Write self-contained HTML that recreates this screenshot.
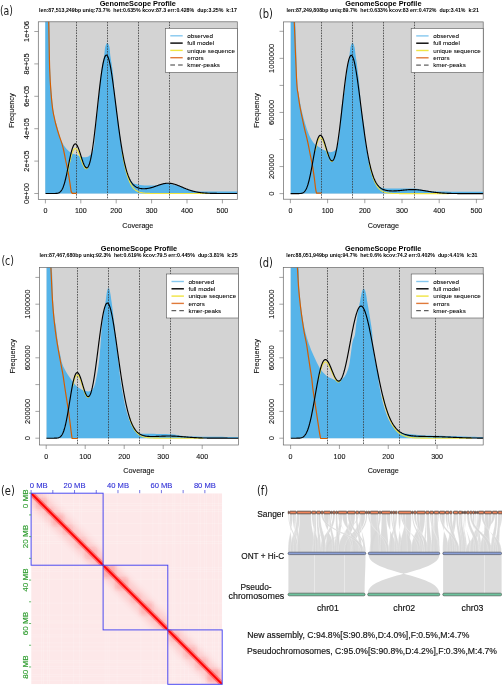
<!DOCTYPE html><html><head><meta charset="utf-8"><style>html,body{margin:0;padding:0;background:#fff;overflow:hidden}svg{display:block}text{font-family:'Liberation Sans', Arial, sans-serif}</style></head><body>
<svg width="502" height="685" viewBox="0 0 502 685">
<rect width="502" height="685" fill="#fff"/>
<clipPath id="clipa"><rect x="38.3" y="21.8" width="199" height="177.6"/></clipPath>
<g clip-path="url(#clipa)">
<rect x="45.3" y="16.8" width="197" height="176.7" fill="#d3d3d3"/>
<path d="M45.3,20C45.95,20 48.38,11.67 49.2,20C50.02,28.33 49.78,57.5 50.2,70C50.62,82.5 51.18,88.33 51.7,95C52.22,101.67 52.72,105.83 53.3,110C53.88,114.17 54.62,117.5 55.2,120C55.78,122.5 56.33,123.33 56.8,125C57.27,126.67 57.3,127.5 58,130C58.7,132.5 59.83,137.18 61,140C62.17,142.82 63.52,144.92 65,146.9C66.48,148.88 68.25,150.67 69.9,151.9C71.55,153.13 73.23,153.57 74.9,154.3C76.57,155.03 78.25,155.8 79.9,156.3C81.55,156.8 83.32,157.3 84.8,157.3C86.28,157.3 87.63,157.05 88.8,156.3C89.97,155.55 90.97,154.2 91.8,152.8C92.63,151.4 93.23,150.87 93.8,147.9C94.37,144.93 94.78,139.18 95.2,135C95.62,130.82 95.8,127.8 96.3,122.8C96.8,117.8 97.65,110.8 98.2,105C98.75,99.2 99.22,92.47 99.6,88C99.98,83.53 100.15,81.47 100.5,78.2C100.85,74.93 101.23,71.52 101.7,68.4C102.17,65.28 102.85,61.9 103.3,59.5C103.75,57.1 104.12,55.93 104.4,54C104.68,52.07 104.68,49.57 105,47.9C105.32,46.23 105.92,44.83 106.3,44C106.68,43.17 106.97,42.9 107.3,42.9C107.63,42.9 107.92,43.17 108.3,44C108.68,44.83 109.27,45.98 109.6,47.9C109.93,49.82 109.98,52.97 110.3,55.5C110.62,58.03 111.12,60.58 111.5,63.1C111.88,65.62 112.28,68.08 112.6,70.6C112.92,73.12 113.15,75.3 113.4,78.2C113.65,81.1 113.77,84.38 114.1,88C114.43,91.62 114.85,95.42 115.4,99.9C115.95,104.38 116.65,109.05 117.4,114.9C118.15,120.75 119.15,129.17 119.9,135C120.65,140.83 121.15,144.92 121.9,149.9C122.65,154.88 123.45,160.47 124.4,164.9C125.35,169.33 126.67,174.12 127.6,176.5C128.53,178.88 129.1,178.13 130,179.2C130.9,180.27 132,182.08 133,182.9C134,183.72 134.83,183.77 136,184.1C137.17,184.43 137.68,184.65 140,184.9C142.32,185.15 146.9,185.6 149.9,185.6C152.9,185.6 155.17,185.23 158,184.9C160.83,184.57 164.1,183.53 166.9,183.6C169.7,183.67 172.62,184.82 174.8,185.3C176.98,185.78 178.43,186.02 180,186.5C181.57,186.98 182.48,187.58 184.2,188.2C185.92,188.82 188.25,189.7 190.3,190.2C192.35,190.7 194.43,190.98 196.5,191.2C198.57,191.42 195.45,191.43 202.7,191.5C209.95,191.57 233.78,191.58 240,191.6L240,193.5 L45.3,193.5 Z" fill="#56B4E9"/>
<line x1="76.5" y1="21.8" x2="76.5" y2="199.4" stroke="#3a3a3a" stroke-width="0.8" stroke-dasharray="1.6,1.05"/>
<line x1="107.5" y1="21.8" x2="107.5" y2="199.4" stroke="#3a3a3a" stroke-width="0.8" stroke-dasharray="1.6,1.05"/>
<line x1="138.5" y1="21.8" x2="138.5" y2="199.4" stroke="#3a3a3a" stroke-width="0.8" stroke-dasharray="1.6,1.05"/>
<line x1="169.5" y1="21.8" x2="169.5" y2="199.4" stroke="#3a3a3a" stroke-width="0.8" stroke-dasharray="1.6,1.05"/>
<path d="M48.7,20C48.87,28.33 49.28,57.5 49.7,70C50.12,82.5 50.68,88.33 51.2,95C51.72,101.67 52.2,105.83 52.8,110C53.4,114.17 54.27,117.5 54.8,120C55.33,122.5 55.3,122.5 56,125C56.7,127.5 58,131.85 59,135C60,138.15 61.23,141.4 62,143.9C62.77,146.4 63,147.32 63.6,150C64.2,152.68 64.88,156.52 65.6,160C66.32,163.48 67.18,167.08 67.9,170.9C68.62,174.72 69.35,179.47 69.9,182.9C70.45,186.33 70.78,189.77 71.2,191.5C71.62,193.23 72.2,193 72.4,193.3 L76.7,193.3" fill="none" stroke="#D55E00" stroke-width="1.2" stroke-linejoin="round"/>
<path d="M67.27,173.32 67.69,171.41 68.12,169.48 68.54,167.53 68.97,165.6 69.39,163.69 69.82,161.82 70.24,160.02 70.67,158.31 71.09,156.69 71.52,155.18 71.95,153.81 72.37,152.57 72.8,151.49 73.22,150.57 73.65,149.82 74.07,149.23 74.5,148.82 74.92,148.58 75.35,148.51 75.77,148.61 76.2,148.86 76.62,149.27 77.05,149.82 77.47,150.5 77.9,151.3 78.32,152.2 78.75,153.2 79.18,154.27 79.6,155.41 80.03,156.59 80.45,157.8 80.88,159.02 81.3,160.24 81.73,161.36 82.15,162.44 82.58,163.47 83,164.46 83.43,165.37 83.85,166.21 84.28,166.95 84.7,167.58 85.13,168.09 85.55,168.47 85.98,168.7 86.41,168.78 86.83,168.69 87.26,168.43 87.68,167.98 88.11,167.35 M122.13,151.72 122.56,154.2 122.98,156.59 123.41,158.88 123.83,161.07 124.26,163.15 124.68,165.14 125.11,167.04 125.53,168.83 125.96,170.54 126.38,172.15 126.81,173.67 127.23,175.11 127.66,176.46 128.08,177.74 128.51,178.93 128.94,180.05 129.36,181.1 129.79,182.07 130.21,182.99 130.64,183.84 131.06,184.63 131.49,185.37 131.91,186.05 132.34,186.68 132.76,187.27 133.19,187.81 133.61,188.31 134.04,188.77 134.46,189.2 134.89,189.59 135.31,189.95 135.74,190.28 136.17,190.58 136.59,190.85 137.02,191.1 137.44,191.34 137.87,191.54 138.29,191.74 138.72,191.91 139.14,192.07 139.57,192.21 139.99,192.34 140.42,192.46 140.84,192.57 141.27,192.66 141.69,192.75 142.12,192.83 142.54,192.9 142.97,192.97 143.4,193.02 143.82,193.07 144.25,193.12 144.67,193.16 145.1,193.2 145.52,193.23 145.95,193.26 146.37,193.29 146.8,193.31 147.22,193.34 147.65,193.35 148.07,193.37 148.5,193.39 148.92,193.4 149.35,193.41 149.77,193.42 150.2,193.43 150.63,193.44 151.05,193.45 151.48,193.45 151.9,193.46 152.33,193.46 152.75,193.47 153.18,193.47 153.6,193.48 154.03,193.48 154.45,193.48 154.88,193.48 155.3,193.49 155.73,193.49 156.15,193.49 156.58,193.49 157,193.49 157.43,193.49 157.86,193.49 158.28,193.49 158.71,193.5 159.13,193.5 159.56,193.5 159.98,193.5 160.41,193.5 160.83,193.5 161.26,193.5 161.68,193.5 162.11,193.5 162.53,193.5 162.96,193.5 163.38,193.5 163.81,193.5 164.23,193.5 164.66,193.5 165.09,193.5 165.51,193.5 165.94,193.5 166.36,193.5 166.79,193.5 167.21,193.5 167.64,193.5 168.06,193.5 168.49,193.5 168.91,193.5 169.34,193.5 169.76,193.5 170.19,193.5 170.61,193.5 171.04,193.5 171.46,193.5 171.89,193.5 172.32,193.5 172.74,193.5 173.17,193.5 173.59,193.5 174.02,193.5 174.44,193.5 174.87,193.5 175.29,193.5 175.72,193.5 176.14,193.5 176.57,193.5 176.99,193.5 177.42,193.5 177.84,193.5 178.27,193.5 178.69,193.5 179.12,193.5 179.55,193.5 179.97,193.5 180.4,193.5 180.82,193.5 181.25,193.5 181.67,193.5 182.1,193.5 182.52,193.5 182.95,193.5 183.37,193.5 183.8,193.5 184.22,193.5 184.65,193.5 185.07,193.5 185.5,193.5 185.92,193.5 186.35,193.5 186.78,193.5 187.2,193.5 187.63,193.5 188.05,193.5 188.48,193.5 188.9,193.5 189.33,193.5 189.75,193.5 190.18,193.5 190.6,193.5 191.03,193.5 191.45,193.5 191.88,193.5 192.3,193.5 192.73,193.5 193.15,193.5 193.58,193.5 194.01,193.5 194.43,193.5 194.86,193.5 195.28,193.5 195.71,193.5 196.13,193.5 196.56,193.5 196.98,193.5 197.41,193.5 197.83,193.5 198.26,193.5 198.68,193.5 199.11,193.5 199.53,193.5 199.96,193.5 200.38,193.5 200.81,193.5 201.24,193.5 201.66,193.5 202.09,193.5 202.51,193.5 202.94,193.5 203.36,193.5 203.79,193.5 204.21,193.5 204.64,193.5 205.06,193.5 205.49,193.5 205.91,193.5 206.34,193.5 206.76,193.5 207.19,193.5 207.62,193.5 208.04,193.5 208.47,193.5 208.89,193.5 209.32,193.5" fill="none" stroke="#F0E442" stroke-width="1.1" stroke-linejoin="round"/>
<path d="M45.58,193.5 46,193.5 46.43,193.5 46.85,193.5 47.28,193.5 47.7,193.5 48.13,193.5 48.55,193.5 48.98,193.5 49.4,193.5 49.83,193.5 50.26,193.5 50.68,193.5 51.11,193.5 51.53,193.5 51.96,193.5 52.38,193.5 52.81,193.5 53.23,193.5 53.66,193.49 54.08,193.49 54.51,193.49 54.93,193.48 55.36,193.46 55.78,193.44 56.21,193.42 56.63,193.38 57.06,193.32 57.49,193.25 57.91,193.15 58.34,193.03 58.76,192.87 59.19,192.66 59.61,192.4 60.04,192.09 60.46,191.7 60.89,191.23 61.31,190.68 61.74,190.04 62.16,189.28 62.59,188.42 63.01,187.44 63.44,186.34 63.86,185.12 64.29,183.77 64.72,182.3 65.14,180.71 65.57,179 65.99,177.19 66.42,175.29 66.84,173.31 67.27,171.25 67.69,169.15 68.12,167.02 68.54,164.88 68.97,162.75 69.39,160.64 69.82,158.59 70.24,156.6 70.67,154.71 71.09,152.93 71.52,151.27 71.95,149.75 72.37,148.39 72.8,147.2 73.22,146.19 73.65,145.35 74.07,144.71 74.5,144.26 74.92,144 75.35,143.92 75.77,144.03 76.2,144.31 76.62,144.76 77.05,145.37 77.47,146.13 77.9,147.01 78.32,148.01 78.75,149.12 79.18,150.31 79.6,151.57 80.03,152.89 80.45,154.24 80.88,155.6 81.3,156.97 81.73,158.33 82.15,159.65 82.58,160.93 83,162.14 83.43,163.27 83.85,164.31 84.28,165.24 84.7,166.05 85.13,166.72 85.55,167.26 85.98,167.63 86.41,167.84 86.83,167.87 87.26,167.71 87.68,167.36 88.11,166.82 88.53,166.07 88.96,165.11 89.38,163.94 89.81,162.55 90.23,160.95 90.66,159.14 91.08,157.11 91.51,154.88 91.93,152.44 92.36,149.81 92.78,146.98 93.21,143.98 93.64,140.81 94.06,137.49 94.49,134.03 94.91,130.43 95.34,126.73 95.76,122.94 96.19,119.07 96.61,115.15 97.04,111.19 97.46,107.22 97.89,103.26 98.31,99.33 98.74,95.44 99.16,91.64 99.59,87.92 100.01,84.32 100.44,80.85 100.87,77.54 101.29,74.41 101.72,71.46 102.14,68.72 102.57,66.2 102.99,63.91 103.42,61.87 103.84,60.08 104.27,58.56 104.69,57.31 105.12,56.33 105.54,55.63 105.97,55.21 106.39,55.07 106.82,55.21 107.25,55.61 107.67,56.29 108.1,57.22 108.52,58.4 108.95,59.83 109.37,61.48 109.8,63.35 110.22,65.43 110.65,67.7 111.07,70.15 111.5,72.76 111.92,75.52 112.35,78.42 112.77,81.42 113.2,84.54 113.62,87.73 114.05,91 114.48,94.33 114.9,97.7 115.33,101.09 115.75,104.5 116.18,107.92 116.6,111.32 117.03,114.7 117.45,118.04 117.88,121.35 118.3,124.6 118.73,127.8 119.15,130.92 119.58,133.98 120,136.95 120.43,139.84 120.85,142.64 121.28,145.34 121.71,147.96 122.13,150.47 122.56,152.88 122.98,155.19 123.41,157.4 123.83,159.52 124.26,161.53 124.68,163.44 125.11,165.25 125.53,166.97 125.96,168.59 126.38,170.12 126.81,171.56 127.23,172.92 127.66,174.19 128.08,175.38 128.51,176.49 128.94,177.53 129.36,178.5 129.79,179.4 130.21,180.24 130.64,181.02 131.06,181.74 131.49,182.41 131.91,183.02 132.34,183.59 132.76,184.11 133.19,184.59 133.61,185.03 134.04,185.43 134.46,185.8 134.89,186.14 135.31,186.45 135.74,186.73 136.17,186.98 136.59,187.21 137.02,187.42 137.44,187.61 137.87,187.78 138.29,187.93 138.72,188.07 139.14,188.19 139.57,188.3 139.99,188.39 140.42,188.47 140.84,188.54 141.27,188.6 141.69,188.65 142.12,188.69 142.54,188.71 142.97,188.73 143.4,188.75 143.82,188.75 144.25,188.74 144.67,188.73 145.1,188.71 145.52,188.68 145.95,188.65 146.37,188.61 146.8,188.56 147.22,188.5 147.65,188.44 148.07,188.37 148.5,188.3 148.92,188.21 149.35,188.13 149.77,188.03 150.2,187.93 150.63,187.83 151.05,187.72 151.48,187.6 151.9,187.48 152.33,187.35 152.75,187.22 153.18,187.09 153.6,186.95 154.03,186.81 154.45,186.67 154.88,186.52 155.3,186.37 155.73,186.22 156.15,186.07 156.58,185.92 157,185.76 157.43,185.61 157.86,185.46 158.28,185.31 158.71,185.16 159.13,185.01 159.56,184.87 159.98,184.73 160.41,184.59 160.83,184.46 161.26,184.33 161.68,184.21 162.11,184.09 162.53,183.98 162.96,183.87 163.38,183.77 163.81,183.68 164.23,183.6 164.66,183.52 165.09,183.45 165.51,183.4 165.94,183.34 166.36,183.3 166.79,183.27 167.21,183.24 167.64,183.23 168.06,183.22 168.49,183.22 168.91,183.24 169.34,183.26 169.76,183.29 170.19,183.33 170.61,183.38 171.04,183.43 171.46,183.5 171.89,183.58 172.32,183.66 172.74,183.75 173.17,183.85 173.59,183.96 174.02,184.07 174.44,184.19 174.87,184.32 175.29,184.45 175.72,184.59 176.14,184.74 176.57,184.89 176.99,185.04 177.42,185.2 177.84,185.37 178.27,185.53 178.69,185.7 179.12,185.88 179.55,186.05 179.97,186.23 180.4,186.41 180.82,186.59 181.25,186.77 181.67,186.95 182.1,187.14 182.52,187.32 182.95,187.5 183.37,187.69 183.8,187.87 184.22,188.05 184.65,188.22 185.07,188.4 185.5,188.57 185.92,188.75 186.35,188.92 186.78,189.08 187.2,189.25 187.63,189.41 188.05,189.57 188.48,189.72 188.9,189.88 189.33,190.02 189.75,190.17 190.18,190.31 190.6,190.45 191.03,190.58 191.45,190.71 191.88,190.84 192.3,190.96 192.73,191.08 193.15,191.19 193.58,191.3 194.01,191.41 194.43,191.51 194.86,191.61 195.28,191.71 195.71,191.8 196.13,191.89 196.56,191.97 196.98,192.05 197.41,192.13 197.83,192.21 198.26,192.28 198.68,192.35 199.11,192.41 199.53,192.47 199.96,192.53 200.38,192.59 200.81,192.64 201.24,192.7 201.66,192.74 202.09,192.79 202.51,192.83 202.94,192.88 203.36,192.91 203.79,192.95 204.21,192.99 204.64,193.02 205.06,193.05 205.49,193.08 205.91,193.11 206.34,193.13 206.76,193.16 207.19,193.18 207.62,193.2 208.04,193.22 208.47,193.24 208.89,193.26 209.32,193.28 209.74,193.29 210.17,193.31 210.59,193.32 211.02,193.34 211.44,193.35 211.87,193.36 212.29,193.37 212.72,193.38 213.14,193.39 213.57,193.4 213.99,193.41 214.42,193.41 214.85,193.42 215.27,193.43 215.7,193.43 216.12,193.44 216.55,193.44 216.97,193.45 217.4,193.45 217.82,193.46 218.25,193.46 218.67,193.46 219.1,193.47 219.52,193.47 219.95,193.47 220.37,193.47 220.8,193.48 221.22,193.48 221.65,193.48 222.08,193.48 222.5,193.48 222.93,193.48 223.35,193.49 223.78,193.49 224.2,193.49 224.63,193.49 225.05,193.49 225.48,193.49 225.9,193.49 226.33,193.49 226.75,193.49 227.18,193.49 227.6,193.49 228.03,193.5 228.45,193.5 228.88,193.5 229.31,193.5 229.73,193.5 230.16,193.5 230.58,193.5 231.01,193.5 231.43,193.5 231.86,193.5 232.28,193.5 232.71,193.5 233.13,193.5 233.56,193.5 233.98,193.5 234.41,193.5 234.83,193.5 235.26,193.5 235.68,193.5 236.11,193.5 236.54,193.5 236.96,193.5 237.39,193.5 237.81,193.5 238.24,193.5 238.66,193.5 239.09,193.5 239.51,193.5 239.94,193.5" fill="none" stroke="#000" stroke-width="1.15" stroke-linejoin="round"/>
</g>
<rect x="38.3" y="21.8" width="199" height="177.6" fill="none" stroke="#666" stroke-width="0.7"/>
<rect x="165.3" y="28.3" width="72" height="44" fill="#fff" stroke="#555" stroke-width="0.6"/>
<line x1="170.3" y1="35.8" x2="182.7" y2="35.8" stroke="#86c8ef" stroke-width="1.4"/>
<text x="187.3" y="37.95" font-size="6.25" fill="#000" stroke="#000" stroke-width="0.06">observed</text>
<line x1="170.3" y1="43.1" x2="182.7" y2="43.1" stroke="#000" stroke-width="1.4"/>
<text x="187.3" y="45.25" font-size="6.25" fill="#000" stroke="#000" stroke-width="0.06">full model</text>
<line x1="170.3" y1="50.4" x2="182.7" y2="50.4" stroke="#F0E442" stroke-width="1.4"/>
<text x="187.3" y="52.55" font-size="6.25" fill="#000" stroke="#000" stroke-width="0.06">unique sequence</text>
<line x1="170.3" y1="57.7" x2="182.7" y2="57.7" stroke="#e07a3a" stroke-width="1.4"/>
<text x="187.3" y="59.85" font-size="6.25" fill="#000" stroke="#000" stroke-width="0.06">errors</text>
<line x1="170.3" y1="65" x2="182.7" y2="65" stroke="#222" stroke-width="0.9" stroke-dasharray="4.7,3.1"/>
<text x="187.3" y="67.15" font-size="6.25" fill="#000" stroke="#000" stroke-width="0.06">kmer-peaks</text>
<line x1="45.4" y1="199.4" x2="45.4" y2="203.4" stroke="#666" stroke-width="0.6"/>
<text x="45.4" y="213" font-size="7.1" text-anchor="middle" fill="#111" stroke="#111" stroke-width="0.1">0</text>
<line x1="80.8" y1="199.4" x2="80.8" y2="203.4" stroke="#666" stroke-width="0.6"/>
<text x="80.8" y="213" font-size="7.1" text-anchor="middle" fill="#111" stroke="#111" stroke-width="0.1">100</text>
<line x1="116.2" y1="199.4" x2="116.2" y2="203.4" stroke="#666" stroke-width="0.6"/>
<text x="116.2" y="213" font-size="7.1" text-anchor="middle" fill="#111" stroke="#111" stroke-width="0.1">200</text>
<line x1="151.6" y1="199.4" x2="151.6" y2="203.4" stroke="#666" stroke-width="0.6"/>
<text x="151.6" y="213" font-size="7.1" text-anchor="middle" fill="#111" stroke="#111" stroke-width="0.1">300</text>
<line x1="187" y1="199.4" x2="187" y2="203.4" stroke="#666" stroke-width="0.6"/>
<text x="187" y="213" font-size="7.1" text-anchor="middle" fill="#111" stroke="#111" stroke-width="0.1">400</text>
<line x1="222.4" y1="199.4" x2="222.4" y2="203.4" stroke="#666" stroke-width="0.6"/>
<text x="222.4" y="213" font-size="7.1" text-anchor="middle" fill="#111" stroke="#111" stroke-width="0.1">500</text>
<line x1="34.3" y1="193.5" x2="38.3" y2="193.5" stroke="#666" stroke-width="0.6"/>
<text transform="translate(29,193.5) rotate(-90)" font-size="7.5" text-anchor="middle" fill="#111" stroke="#111" stroke-width="0.1">0e+00</text>
<line x1="34.3" y1="161.1" x2="38.3" y2="161.1" stroke="#666" stroke-width="0.6"/>
<text transform="translate(29,161.1) rotate(-90)" font-size="7.5" text-anchor="middle" fill="#111" stroke="#111" stroke-width="0.1">2e+05</text>
<line x1="34.3" y1="128.7" x2="38.3" y2="128.7" stroke="#666" stroke-width="0.6"/>
<text transform="translate(29,128.7) rotate(-90)" font-size="7.5" text-anchor="middle" fill="#111" stroke="#111" stroke-width="0.1">4e+05</text>
<line x1="34.3" y1="96.3" x2="38.3" y2="96.3" stroke="#666" stroke-width="0.6"/>
<text transform="translate(29,96.3) rotate(-90)" font-size="7.5" text-anchor="middle" fill="#111" stroke="#111" stroke-width="0.1">6e+05</text>
<line x1="34.3" y1="63.9" x2="38.3" y2="63.9" stroke="#666" stroke-width="0.6"/>
<text transform="translate(29,63.9) rotate(-90)" font-size="7.5" text-anchor="middle" fill="#111" stroke="#111" stroke-width="0.1">8e+05</text>
<line x1="34.3" y1="31.5" x2="38.3" y2="31.5" stroke="#666" stroke-width="0.6"/>
<text transform="translate(29,31.5) rotate(-90)" font-size="7.5" text-anchor="middle" fill="#111" stroke="#111" stroke-width="0.1">1e+06</text>
<text x="137.8" y="227.8" font-size="7.2" text-anchor="middle" fill="#111" stroke="#111" stroke-width="0.1">Coverage</text>
<text transform="translate(13.5,110.6) rotate(-90)" font-size="7.3" text-anchor="middle" fill="#111" stroke="#111" stroke-width="0.1">Frequency</text>
<text x="137.8" y="5.6" font-size="7.2" font-weight="bold" text-anchor="middle" textLength="76.3" lengthAdjust="spacingAndGlyphs">GenomeScope Profile</text>
<text x="39" y="11.9" font-size="4.7" font-weight="bold" textLength="197.9" lengthAdjust="spacingAndGlyphs" style="white-space:pre">len:87,513,249bp uniq:73.7%  het:0.635% kcov:87.3 err:0.428%  dup:3.25%  k:17</text>
<text x="-0.1" y="15.4" font-size="11.4" style="font-family:'DejaVu Sans',sans-serif" fill="#1a1a1a" textLength="13" lengthAdjust="spacingAndGlyphs">(a)</text>
<clipPath id="clipb"><rect x="283.5" y="21.9" width="199.7" height="177.3"/></clipPath>
<g clip-path="url(#clipb)">
<rect x="290.7" y="16.9" width="197.5" height="176.7" fill="#d3d3d3"/>
<path d="M290.7,20C291.42,20 293.92,10 295,20C296.08,30 296.57,67.62 297.2,80C297.83,92.38 298.2,89.92 298.8,94.3C299.4,98.68 300.2,103.1 300.8,106.3C301.4,109.5 301.65,110.52 302.4,113.5C303.15,116.48 304.22,120.7 305.3,124.2C306.38,127.7 307.5,131.35 308.9,134.5C310.3,137.65 312.1,141.07 313.7,143.1C315.3,145.13 316.92,145.6 318.5,146.7C320.08,147.8 321.62,148.9 323.2,149.7C324.78,150.5 326.6,151.1 328,151.5C329.4,151.9 330.4,152.3 331.6,152.1C332.8,151.9 334.2,151.4 335.2,150.3C336.2,149.2 336.9,147.88 337.6,145.5C338.3,143.12 338.77,142.25 339.4,136C340.03,129.75 340.55,115.33 341.4,108C342.25,100.67 343.85,95.73 344.5,92C345.15,88.27 345.03,87.93 345.3,85.6C345.57,83.27 345.78,80.53 346.1,78C346.42,75.47 346.82,72.93 347.2,70.4C347.58,67.87 348.02,65.33 348.4,62.8C348.78,60.27 349.17,57.73 349.5,55.2C349.83,52.67 350.07,49.48 350.4,47.6C350.73,45.72 351.15,44.72 351.5,43.9C351.85,43.08 352.17,42.7 352.5,42.7C352.83,42.7 353.15,43.08 353.5,43.9C353.85,44.72 354.25,45.72 354.6,47.6C354.95,49.48 355.25,52.67 355.6,55.2C355.95,57.73 356.37,60.27 356.7,62.8C357.03,65.33 357.28,67.87 357.6,70.4C357.92,72.93 358.3,75.47 358.6,78C358.9,80.53 359.18,83.27 359.4,85.6C359.62,87.93 359.6,88.28 359.9,92C360.2,95.72 360.5,102.27 361.2,107.9C361.9,113.53 363.4,120.45 364.1,125.8C364.8,131.15 364.83,135.3 365.4,140C365.97,144.7 366.7,149.35 367.5,154C368.3,158.65 369.05,163.53 370.2,167.9C371.35,172.27 372.98,177.13 374.4,180.2C375.82,183.27 377.05,184.95 378.7,186.3C380.35,187.65 382.2,187.93 384.3,188.3C386.4,188.67 388.52,188.47 391.3,188.5C394.08,188.53 397.28,188.48 401,188.5C404.72,188.52 410.43,188.45 413.6,188.6C416.77,188.75 417.63,189.03 420,189.4C422.37,189.77 425,190.45 427.8,190.8C430.6,191.15 427.27,191.32 436.8,191.5C446.33,191.68 476.97,191.83 485,191.9L485,193.6 L290.7,193.6 Z" fill="#56B4E9"/>
<line x1="321.5" y1="21.9" x2="321.5" y2="199.2" stroke="#3a3a3a" stroke-width="0.8" stroke-dasharray="1.6,1.05"/>
<line x1="352.5" y1="21.9" x2="352.5" y2="199.2" stroke="#3a3a3a" stroke-width="0.8" stroke-dasharray="1.6,1.05"/>
<line x1="383.5" y1="21.9" x2="383.5" y2="199.2" stroke="#3a3a3a" stroke-width="0.8" stroke-dasharray="1.6,1.05"/>
<line x1="414.5" y1="21.9" x2="414.5" y2="199.2" stroke="#3a3a3a" stroke-width="0.8" stroke-dasharray="1.6,1.05"/>
<path d="M294.2,20C294.6,30 295.95,67.62 296.6,80C297.25,92.38 297.55,89.92 298.1,94.3C298.65,98.68 299.2,102.32 299.9,106.3C300.6,110.28 301.5,114.33 302.3,118.2C303.1,122.07 303.8,125.55 304.7,129.5C305.6,133.45 306.8,137.83 307.7,141.9C308.6,145.97 309.3,149.92 310.1,153.9C310.9,157.88 311.8,161.82 312.5,165.8C313.2,169.78 313.78,174.02 314.3,177.8C314.82,181.58 315.23,185.95 315.6,188.5C315.97,191.05 316.35,192.33 316.5,193.1 L321.4,193.1" fill="none" stroke="#D55E00" stroke-width="1.2" stroke-linejoin="round"/>
<path d="M315.17,150.85 315.61,148.82 316.06,146.91 316.51,145.16 316.95,143.57 317.4,142.15 317.85,140.92 318.3,139.89 318.74,139.06 319.19,138.43 319.64,138.01 320.08,137.79 320.53,137.76 320.98,137.93 321.42,138.29 321.87,138.82 322.32,139.51 322.76,140.34 323.21,141.32 323.66,142.41 324.11,143.6 324.55,144.87 325,146.21 325.45,147.59 325.89,149.01 326.34,150.43 326.79,151.84 327.23,153.16 327.68,154.45 328.13,155.68 328.57,156.83 M329.92,159.66 330.36,160.34 330.81,160.86 331.26,161.22 331.7,161.39 332.15,161.37 332.6,161.15 333.04,160.72 M369.24,162.79 369.69,164.87 370.14,166.85 370.59,168.73 371.03,170.51 371.48,172.18 371.93,173.76 372.37,175.25 372.82,176.65 373.27,177.96 373.71,179.19 374.16,180.34 374.61,181.41 375.05,182.41 375.5,183.34 375.95,184.21 376.39,185.01 376.84,185.75 377.29,186.43 377.74,187.07 378.18,187.65 378.63,188.19 379.08,188.69 379.52,189.14 379.97,189.56 380.42,189.94 380.86,190.29 381.31,190.61 381.76,190.9 382.2,191.17 382.65,191.41 383.1,191.63 383.55,191.83 383.99,192.01 384.44,192.17 384.89,192.32 385.33,192.46 385.78,192.58 386.23,192.69 386.67,192.78 387.12,192.87 387.57,192.95 388.01,193.02 388.46,193.09 388.91,193.14 389.36,193.2 389.8,193.24 390.25,193.28 390.7,193.32 391.14,193.35 391.59,193.38 392.04,193.41 392.48,193.43 392.93,193.45 393.38,193.47 393.82,193.48 394.27,193.5 394.72,193.51 395.17,193.52 395.61,193.53 396.06,193.54 396.51,193.55 396.95,193.55 397.4,193.56 397.85,193.56 398.29,193.57 398.74,193.57 399.19,193.58 399.63,193.58 400.08,193.58 400.53,193.58 400.98,193.59 401.42,193.59 401.87,193.59 402.32,193.59 402.76,193.59 403.21,193.59 403.66,193.59 404.1,193.6 404.55,193.6 405,193.6 405.44,193.6 405.89,193.6 406.34,193.6 406.79,193.6 407.23,193.6 407.68,193.6 408.13,193.6 408.57,193.6 409.02,193.6 409.47,193.6 409.91,193.6 410.36,193.6 410.81,193.6 411.25,193.6 411.7,193.6 412.15,193.6 412.6,193.6 413.04,193.6 413.49,193.6 413.94,193.6 414.38,193.6 414.83,193.6 415.28,193.6 415.72,193.6 416.17,193.6 416.62,193.6 417.06,193.6 417.51,193.6 417.96,193.6 418.41,193.6 418.85,193.6 419.3,193.6 419.75,193.6 420.19,193.6 420.64,193.6 421.09,193.6 421.53,193.6 421.98,193.6 422.43,193.6 422.87,193.6 423.32,193.6 423.77,193.6 424.22,193.6 424.66,193.6 425.11,193.6 425.56,193.6 426,193.6 426.45,193.6 426.9,193.6 427.34,193.6 427.79,193.6 428.24,193.6 428.68,193.6 429.13,193.6 429.58,193.6 430.03,193.6 430.47,193.6 430.92,193.6 431.37,193.6 431.81,193.6 432.26,193.6 432.71,193.6 433.15,193.6 433.6,193.6 434.05,193.6 434.49,193.6 434.94,193.6 435.39,193.6 435.84,193.6 436.28,193.6 436.73,193.6 437.18,193.6 437.62,193.6 438.07,193.6 438.52,193.6 438.96,193.6 439.41,193.6 439.86,193.6 440.3,193.6 440.75,193.6 441.2,193.6 441.65,193.6 442.09,193.6 442.54,193.6 442.99,193.6 443.43,193.6 443.88,193.6 444.33,193.6 444.77,193.6 445.22,193.6 445.67,193.6 446.11,193.6 446.56,193.6 447.01,193.6 447.46,193.6 447.9,193.6 448.35,193.6 448.8,193.6" fill="none" stroke="#F0E442" stroke-width="1.1" stroke-linejoin="round"/>
<path d="M290.59,193.6 291.03,193.6 291.48,193.6 291.93,193.6 292.37,193.6 292.82,193.6 293.27,193.6 293.71,193.6 294.16,193.6 294.61,193.6 295.06,193.6 295.5,193.6 295.95,193.6 296.4,193.6 296.84,193.6 297.29,193.6 297.74,193.59 298.18,193.59 298.63,193.58 299.08,193.57 299.52,193.55 299.97,193.52 300.42,193.49 300.87,193.43 301.31,193.36 301.76,193.26 302.21,193.12 302.65,192.95 303.1,192.73 303.55,192.45 303.99,192.1 304.44,191.67 304.89,191.15 305.33,190.53 305.78,189.81 306.23,188.96 306.68,187.98 307.12,186.87 307.57,185.62 308.02,184.23 308.46,182.69 308.91,181 309.36,179.18 309.8,177.22 310.25,175.14 310.7,172.95 311.14,170.66 311.59,168.29 312.04,165.86 312.49,163.39 312.93,160.9 313.38,158.41 313.83,155.95 314.27,153.54 314.72,151.2 315.17,148.96 315.61,146.84 316.06,144.86 316.51,143.02 316.95,141.36 317.4,139.89 317.85,138.6 318.3,137.52 318.74,136.66 319.19,136 319.64,135.56 320.08,135.33 320.53,135.31 320.98,135.48 321.42,135.86 321.87,136.41 322.32,137.13 322.76,138.01 323.21,139.03 323.66,140.17 324.11,141.42 324.55,142.75 325,144.16 325.45,145.61 325.89,147.1 326.34,148.6 326.79,150.09 327.23,151.55 327.68,152.97 328.13,154.32 328.57,155.59 329.02,156.77 329.47,157.82 329.92,158.74 330.36,159.52 330.81,160.13 331.26,160.57 331.7,160.82 332.15,160.87 332.6,160.71 333.04,160.34 333.49,159.74 333.94,158.91 334.38,157.85 334.83,156.55 335.28,155.01 335.73,153.24 336.17,151.23 336.62,149 337.07,146.54 337.51,143.87 337.96,140.99 338.41,137.92 338.85,134.68 339.3,131.27 339.75,127.71 340.19,124.04 340.64,120.25 341.09,116.38 341.54,112.45 341.98,108.47 342.43,104.49 342.88,100.51 343.32,96.56 343.77,92.68 344.22,88.88 344.66,85.18 345.11,81.61 345.56,78.2 346,74.96 346.45,71.91 346.9,69.08 347.35,66.48 347.79,64.13 348.24,62.03 348.69,60.2 349.13,58.66 349.58,57.4 350.03,56.44 350.47,55.77 350.92,55.4 351.37,55.33 351.81,55.56 352.26,56.07 352.71,56.87 353.16,57.94 353.6,59.28 354.05,60.87 354.5,62.7 354.94,64.76 355.39,67.04 355.84,69.51 356.28,72.16 356.73,74.98 357.18,77.95 357.62,81.05 358.07,84.26 358.52,87.57 358.97,90.96 359.41,94.41 359.86,97.91 360.31,101.45 360.75,104.99 361.2,108.54 361.65,112.08 362.09,115.6 362.54,119.08 362.99,122.51 363.43,125.89 363.88,129.2 364.33,132.43 364.78,135.59 365.22,138.66 365.67,141.64 366.12,144.52 366.56,147.3 367.01,149.98 367.46,152.55 367.9,155.01 368.35,157.37 368.8,159.62 369.24,161.76 369.69,163.79 370.14,165.72 370.59,167.55 371.03,169.27 371.48,170.9 371.93,172.43 372.37,173.87 372.82,175.21 373.27,176.48 373.71,177.66 374.16,178.76 374.61,179.78 375.05,180.73 375.5,181.62 375.95,182.44 376.39,183.2 376.84,183.9 377.29,184.54 377.74,185.14 378.18,185.69 378.63,186.19 379.08,186.66 379.52,187.08 379.97,187.47 380.42,187.83 380.86,188.15 381.31,188.45 381.76,188.72 382.2,188.97 382.65,189.19 383.1,189.4 383.55,189.58 383.99,189.75 384.44,189.9 384.89,190.04 385.33,190.16 385.78,190.27 386.23,190.37 386.67,190.46 387.12,190.54 387.57,190.61 388.01,190.68 388.46,190.73 388.91,190.78 389.36,190.82 389.8,190.85 390.25,190.88 390.7,190.91 391.14,190.92 391.59,190.94 392.04,190.95 392.48,190.95 392.93,190.95 393.38,190.95 393.82,190.94 394.27,190.93 394.72,190.91 395.17,190.89 395.61,190.87 396.06,190.85 396.51,190.82 396.95,190.79 397.4,190.75 397.85,190.72 398.29,190.68 398.74,190.64 399.19,190.6 399.63,190.56 400.08,190.51 400.53,190.47 400.98,190.42 401.42,190.37 401.87,190.32 402.32,190.28 402.76,190.23 403.21,190.18 403.66,190.13 404.1,190.08 404.55,190.04 405,189.99 405.44,189.95 405.89,189.9 406.34,189.86 406.79,189.82 407.23,189.78 407.68,189.75 408.13,189.72 408.57,189.69 409.02,189.66 409.47,189.64 409.91,189.61 410.36,189.6 410.81,189.58 411.25,189.57 411.7,189.56 412.15,189.56 412.6,189.56 413.04,189.56 413.49,189.57 413.94,189.58 414.38,189.59 414.83,189.61 415.28,189.63 415.72,189.65 416.17,189.68 416.62,189.71 417.06,189.75 417.51,189.79 417.96,189.83 418.41,189.87 418.85,189.92 419.3,189.97 419.75,190.02 420.19,190.08 420.64,190.13 421.09,190.19 421.53,190.26 421.98,190.32 422.43,190.39 422.87,190.45 423.32,190.52 423.77,190.59 424.22,190.66 424.66,190.73 425.11,190.81 425.56,190.88 426,190.95 426.45,191.03 426.9,191.1 427.34,191.17 427.79,191.25 428.24,191.32 428.68,191.4 429.13,191.47 429.58,191.54 430.03,191.61 430.47,191.68 430.92,191.75 431.37,191.82 431.81,191.89 432.26,191.95 432.71,192.02 433.15,192.08 433.6,192.15 434.05,192.21 434.49,192.27 434.94,192.32 435.39,192.38 435.84,192.44 436.28,192.49 436.73,192.54 437.18,192.59 437.62,192.64 438.07,192.69 438.52,192.73 438.96,192.77 439.41,192.82 439.86,192.86 440.3,192.9 440.75,192.93 441.2,192.97 441.65,193 442.09,193.04 442.54,193.07 442.99,193.1 443.43,193.13 443.88,193.15 444.33,193.18 444.77,193.21 445.22,193.23 445.67,193.25 446.11,193.27 446.56,193.29 447.01,193.31 447.46,193.33 447.9,193.35 448.35,193.36 448.8,193.38 449.24,193.39 449.69,193.41 450.14,193.42 450.58,193.43 451.03,193.44 451.48,193.46 451.92,193.47 452.37,193.47 452.82,193.48 453.27,193.49 453.71,193.5 454.16,193.51 454.61,193.51 455.05,193.52 455.5,193.53 455.95,193.53 456.39,193.54 456.84,193.54 457.29,193.55 457.73,193.55 458.18,193.55 458.63,193.56 459.08,193.56 459.52,193.56 459.97,193.57 460.42,193.57 460.86,193.57 461.31,193.57 461.76,193.58 462.2,193.58 462.65,193.58 463.1,193.58 463.54,193.58 463.99,193.59 464.44,193.59 464.89,193.59 465.33,193.59 465.78,193.59 466.23,193.59 466.67,193.59 467.12,193.59 467.57,193.59 468.01,193.59 468.46,193.59 468.91,193.59 469.35,193.6 469.8,193.6 470.25,193.6 470.7,193.6 471.14,193.6 471.59,193.6 472.04,193.6 472.48,193.6 472.93,193.6 473.38,193.6 473.82,193.6 474.27,193.6 474.72,193.6 475.16,193.6 475.61,193.6 476.06,193.6 476.51,193.6 476.95,193.6 477.4,193.6 477.85,193.6 478.29,193.6 478.74,193.6 479.19,193.6 479.63,193.6 480.08,193.6 480.53,193.6 480.97,193.6 481.42,193.6 481.87,193.6 482.32,193.6 482.76,193.6 483.21,193.6 483.66,193.6 484.1,193.6 484.55,193.6 485,193.6 485.44,193.6 485.89,193.6" fill="none" stroke="#000" stroke-width="1.15" stroke-linejoin="round"/>
</g>
<rect x="283.5" y="21.9" width="199.7" height="177.3" fill="none" stroke="#666" stroke-width="0.7"/>
<rect x="411.2" y="28.4" width="72" height="44" fill="#fff" stroke="#555" stroke-width="0.6"/>
<line x1="416.2" y1="35.9" x2="428.6" y2="35.9" stroke="#86c8ef" stroke-width="1.4"/>
<text x="433.2" y="38.05" font-size="6.25" fill="#000" stroke="#000" stroke-width="0.06">observed</text>
<line x1="416.2" y1="43.2" x2="428.6" y2="43.2" stroke="#000" stroke-width="1.4"/>
<text x="433.2" y="45.35" font-size="6.25" fill="#000" stroke="#000" stroke-width="0.06">full model</text>
<line x1="416.2" y1="50.5" x2="428.6" y2="50.5" stroke="#F0E442" stroke-width="1.4"/>
<text x="433.2" y="52.65" font-size="6.25" fill="#000" stroke="#000" stroke-width="0.06">unique sequence</text>
<line x1="416.2" y1="57.8" x2="428.6" y2="57.8" stroke="#e07a3a" stroke-width="1.4"/>
<text x="433.2" y="59.95" font-size="6.25" fill="#000" stroke="#000" stroke-width="0.06">errors</text>
<line x1="416.2" y1="65.1" x2="428.6" y2="65.1" stroke="#222" stroke-width="0.9" stroke-dasharray="4.7,3.1"/>
<text x="433.2" y="67.25" font-size="6.25" fill="#000" stroke="#000" stroke-width="0.06">kmer-peaks</text>
<line x1="290.4" y1="199.2" x2="290.4" y2="203.2" stroke="#666" stroke-width="0.6"/>
<text x="290.4" y="212.8" font-size="7.1" text-anchor="middle" fill="#111" stroke="#111" stroke-width="0.1">0</text>
<line x1="327.6" y1="199.2" x2="327.6" y2="203.2" stroke="#666" stroke-width="0.6"/>
<text x="327.6" y="212.8" font-size="7.1" text-anchor="middle" fill="#111" stroke="#111" stroke-width="0.1">100</text>
<line x1="364.8" y1="199.2" x2="364.8" y2="203.2" stroke="#666" stroke-width="0.6"/>
<text x="364.8" y="212.8" font-size="7.1" text-anchor="middle" fill="#111" stroke="#111" stroke-width="0.1">200</text>
<line x1="402" y1="199.2" x2="402" y2="203.2" stroke="#666" stroke-width="0.6"/>
<text x="402" y="212.8" font-size="7.1" text-anchor="middle" fill="#111" stroke="#111" stroke-width="0.1">300</text>
<line x1="439.2" y1="199.2" x2="439.2" y2="203.2" stroke="#666" stroke-width="0.6"/>
<text x="439.2" y="212.8" font-size="7.1" text-anchor="middle" fill="#111" stroke="#111" stroke-width="0.1">400</text>
<line x1="476.4" y1="199.2" x2="476.4" y2="203.2" stroke="#666" stroke-width="0.6"/>
<text x="476.4" y="212.8" font-size="7.1" text-anchor="middle" fill="#111" stroke="#111" stroke-width="0.1">500</text>
<line x1="279.5" y1="193.6" x2="283.5" y2="193.6" stroke="#666" stroke-width="0.6"/>
<text transform="translate(274.2,193.6) rotate(-90)" font-size="7.5" text-anchor="middle" fill="#111" stroke="#111" stroke-width="0.1">0</text>
<line x1="279.5" y1="166.55" x2="283.5" y2="166.55" stroke="#666" stroke-width="0.6"/>
<text transform="translate(274.2,166.55) rotate(-90)" font-size="7.5" text-anchor="middle" fill="#111" stroke="#111" stroke-width="0.1">200000</text>
<line x1="279.5" y1="139.5" x2="283.5" y2="139.5" stroke="#666" stroke-width="0.6"/>
<line x1="279.5" y1="112.45" x2="283.5" y2="112.45" stroke="#666" stroke-width="0.6"/>
<text transform="translate(274.2,112.45) rotate(-90)" font-size="7.5" text-anchor="middle" fill="#111" stroke="#111" stroke-width="0.1">600000</text>
<line x1="279.5" y1="85.4" x2="283.5" y2="85.4" stroke="#666" stroke-width="0.6"/>
<line x1="279.5" y1="58.35" x2="283.5" y2="58.35" stroke="#666" stroke-width="0.6"/>
<text transform="translate(274.2,58.35) rotate(-90)" font-size="7.5" text-anchor="middle" fill="#111" stroke="#111" stroke-width="0.1">1000000</text>
<line x1="279.5" y1="31.3" x2="283.5" y2="31.3" stroke="#666" stroke-width="0.6"/>
<text x="383.35" y="227.6" font-size="7.2" text-anchor="middle" fill="#111" stroke="#111" stroke-width="0.1">Coverage</text>
<text transform="translate(258.7,110.55) rotate(-90)" font-size="7.3" text-anchor="middle" fill="#111" stroke="#111" stroke-width="0.1">Frequency</text>
<text x="383.35" y="5.7" font-size="7.2" font-weight="bold" text-anchor="middle" textLength="76.3" lengthAdjust="spacingAndGlyphs">GenomeScope Profile</text>
<text x="286.6" y="12" font-size="4.7" font-weight="bold" textLength="192.3" lengthAdjust="spacingAndGlyphs" style="white-space:pre">len:87,249,808bp uniq:89.7%  het:0.633% kcov:83 err:0.472%  dup:3.41%  k:21</text>
<text x="258.8" y="17.5" font-size="11.4" style="font-family:'DejaVu Sans',sans-serif" fill="#1a1a1a" textLength="14.1" lengthAdjust="spacingAndGlyphs">(b)</text>
<clipPath id="clipc"><rect x="39.4" y="267.5" width="199.1" height="177.5"/></clipPath>
<g clip-path="url(#clipc)">
<rect x="46.6" y="262.5" width="196.9" height="175.7" fill="#d3d3d3"/>
<path d="M46.6,265C47.4,265 50.32,259.03 51.4,265C52.48,270.97 52.53,291.63 53.1,300.8C53.67,309.97 54.33,315.8 54.8,320C55.27,324.2 55.35,322.02 55.9,326C56.45,329.98 57.33,338.9 58.1,343.9C58.87,348.9 59.85,352.82 60.5,356C61.15,359.18 61.28,360.73 62,363C62.72,365.27 63.8,367.58 64.8,369.6C65.8,371.62 66.8,373.25 68,375.1C69.2,376.95 70.68,378.97 72,380.7C73.32,382.43 74.45,384.1 75.9,385.5C77.35,386.9 79.1,388.17 80.7,389.1C82.3,390.03 84.17,390.7 85.5,391.1C86.83,391.5 87.63,391.63 88.7,391.5C89.77,391.37 90.97,391.17 91.9,390.3C92.83,389.43 93.63,388.03 94.3,386.3C94.97,384.57 95.37,382.28 95.9,379.9C96.43,377.52 96.95,375.32 97.5,372C98.05,368.68 98.72,364.33 99.2,360C99.68,355.67 100.07,350.17 100.4,346C100.73,341.83 100.92,338.53 101.2,335C101.48,331.47 101.77,327.77 102.1,324.8C102.43,321.83 102.82,319.73 103.2,317.2C103.58,314.67 104.02,312.13 104.4,309.6C104.78,307.07 105.15,304.53 105.5,302C105.85,299.47 106.17,296.48 106.5,294.4C106.83,292.32 107.17,290.52 107.5,289.5C107.83,288.48 108.17,288.3 108.5,288.3C108.83,288.3 109.17,288.48 109.5,289.5C109.83,290.52 110.15,292.32 110.5,294.4C110.85,296.48 111.25,299.47 111.6,302C111.95,304.53 112.28,307.07 112.6,309.6C112.92,312.13 113.2,314.67 113.5,317.2C113.8,319.73 114.08,321.83 114.4,324.8C114.72,327.77 114.98,331.15 115.4,335C115.82,338.85 116.32,342.77 116.9,347.9C117.48,353.03 118.32,360.45 118.9,365.8C119.48,371.15 119.75,375.32 120.4,380C121.05,384.68 121.93,389.25 122.8,393.9C123.67,398.55 124.38,403.23 125.6,407.9C126.82,412.57 128.57,418.3 130.1,421.9C131.63,425.5 133.23,427.58 134.8,429.5C136.37,431.42 137.35,432.68 139.5,433.4C141.65,434.12 144.28,433.7 147.7,433.8C151.12,433.9 156.05,433.92 160,434C163.95,434.08 168.07,434.03 171.4,434.3C174.73,434.57 176.82,435.25 180,435.6C183.18,435.95 180.5,436.18 190.5,436.4C200.5,436.62 231.75,436.82 240,436.9L240,438.2 L46.6,438.2 Z" fill="#56B4E9"/>
<line x1="77.5" y1="267.5" x2="77.5" y2="445" stroke="#3a3a3a" stroke-width="0.8" stroke-dasharray="1.6,1.05"/>
<line x1="108.5" y1="267.5" x2="108.5" y2="445" stroke="#3a3a3a" stroke-width="0.8" stroke-dasharray="1.6,1.05"/>
<line x1="139.5" y1="267.5" x2="139.5" y2="445" stroke="#3a3a3a" stroke-width="0.8" stroke-dasharray="1.6,1.05"/>
<line x1="170.5" y1="267.5" x2="170.5" y2="445" stroke="#3a3a3a" stroke-width="0.8" stroke-dasharray="1.6,1.05"/>
<path d="M50.8,265C51.08,270.97 51.95,291.63 52.5,300.8C53.05,309.97 53.6,314.82 54.1,320C54.6,325.18 54.97,327.92 55.5,331.9C56.03,335.88 56.65,339.92 57.3,343.9C57.95,347.88 58.7,351.95 59.4,355.8C60.1,359.65 60.9,363.8 61.5,367C62.1,370.2 62.43,371.5 63,375C63.57,378.5 64.2,383.35 64.9,388C65.6,392.65 66.47,398.1 67.2,402.9C67.93,407.7 68.63,411.95 69.3,416.8C69.97,421.65 70.73,428.38 71.2,432C71.67,435.62 71.95,437.42 72.1,438.5 L77.7,438.5" fill="none" stroke="#D55E00" stroke-width="1.2" stroke-linejoin="round"/>
<path d="M72.63,386.49 73.1,384.33 73.57,382.37 74.04,380.62 74.51,379.09 74.98,377.8 75.44,376.75 75.91,375.95 76.38,375.4 76.85,375.09 77.32,375.03 77.79,375.2 78.26,375.59 78.72,376.19 79.19,376.97 79.66,377.93 80.13,379.03 80.6,380.26 81.07,381.59 81.54,383 82,384.46 82.47,385.96 82.94,387.45 83.41,388.93 83.88,390.31 84.35,391.62 84.82,392.84 85.28,393.95 85.75,394.93 86.22,395.77 86.69,396.44 87.16,396.93 87.63,397.22 88.1,397.31 88.56,397.17 89.03,396.81 89.5,396.22 M129.33,417.56 129.8,419.04 130.26,420.43 130.73,421.74 131.2,422.97 131.67,424.13 132.14,425.21 132.61,426.22 133.08,427.17 133.54,428.05 134.01,428.87 134.48,429.63 134.95,430.35 135.42,431 135.89,431.62 136.36,432.18 136.82,432.7 137.29,433.19 137.76,433.63 138.23,434.04 138.7,434.42 139.17,434.76 139.64,435.08 140.1,435.37 140.57,435.63 141.04,435.88 141.51,436.1 141.98,436.3 142.45,436.49 142.92,436.66 143.38,436.81 143.85,436.95 144.32,437.07 144.79,437.19 145.26,437.29 145.73,437.38 146.2,437.47 146.66,437.55 147.13,437.61 147.6,437.68 148.07,437.73 148.54,437.78 149.01,437.83 149.48,437.87 149.94,437.9 150.41,437.94 150.88,437.97 151.35,437.99 151.82,438.02 152.29,438.04 152.76,438.06 153.22,438.07 153.69,438.09 154.16,438.1 154.63,438.11 155.1,438.12 155.57,438.13 156.04,438.14 156.5,438.15 156.97,438.15 157.44,438.16 157.91,438.16 158.38,438.17 158.85,438.17 159.31,438.18 159.78,438.18 160.25,438.18 160.72,438.18 161.19,438.19 161.66,438.19 162.13,438.19 162.59,438.19 163.06,438.19 163.53,438.19 164,438.19 164.47,438.19 164.94,438.2 165.41,438.2 165.87,438.2 166.34,438.2 166.81,438.2 167.28,438.2 167.75,438.2 168.22,438.2 168.69,438.2 169.15,438.2 169.62,438.2 170.09,438.2 170.56,438.2 171.03,438.2 171.5,438.2 171.97,438.2 172.43,438.2 172.9,438.2 173.37,438.2 173.84,438.2 174.31,438.2 174.78,438.2 175.25,438.2 175.71,438.2 176.18,438.2 176.65,438.2 177.12,438.2 177.59,438.2 178.06,438.2 178.53,438.2 178.99,438.2 179.46,438.2 179.93,438.2 180.4,438.2 180.87,438.2 181.34,438.2 181.81,438.2 182.27,438.2 182.74,438.2 183.21,438.2 183.68,438.2 184.15,438.2 184.62,438.2 185.08,438.2 185.55,438.2 186.02,438.2 186.49,438.2 186.96,438.2 187.43,438.2 187.9,438.2 188.36,438.2 188.83,438.2 189.3,438.2 189.77,438.2 190.24,438.2 190.71,438.2 191.18,438.2 191.64,438.2 192.11,438.2 192.58,438.2 193.05,438.2 193.52,438.2 193.99,438.2 194.46,438.2 194.92,438.2 195.39,438.2 195.86,438.2 196.33,438.2 196.8,438.2 197.27,438.2 197.74,438.2 198.2,438.2 198.67,438.2 199.14,438.2 199.61,438.2 200.08,438.2 200.55,438.2 201.02,438.2 201.48,438.2 201.95,438.2 202.42,438.2 202.89,438.2 203.36,438.2" fill="none" stroke="#F0E442" stroke-width="1.1" stroke-linejoin="round"/>
<path d="M46.4,438.2 46.86,438.2 47.33,438.2 47.8,438.2 48.27,438.2 48.74,438.2 49.21,438.2 49.67,438.2 50.14,438.2 50.61,438.2 51.08,438.2 51.55,438.2 52.02,438.2 52.49,438.2 52.95,438.2 53.42,438.2 53.89,438.2 54.36,438.19 54.83,438.18 55.3,438.17 55.77,438.16 56.23,438.14 56.7,438.1 57.17,438.05 57.64,437.98 58.11,437.88 58.58,437.75 59.05,437.58 59.51,437.35 59.98,437.06 60.45,436.7 60.92,436.25 61.39,435.69 61.86,435.03 62.33,434.23 62.79,433.3 63.26,432.21 63.73,430.96 64.2,429.54 64.67,427.95 65.14,426.19 65.61,424.25 66.07,422.13 66.54,419.86 67.01,417.43 67.48,414.87 67.95,412.18 68.42,409.4 68.89,406.55 69.35,403.65 69.82,400.73 70.29,397.83 70.76,394.96 71.23,392.16 71.7,389.46 72.17,386.89 72.63,384.47 73.1,382.23 73.57,380.19 74.04,378.37 74.51,376.79 74.98,375.44 75.44,374.36 75.91,373.53 76.38,372.96 76.85,372.64 77.32,372.58 77.79,372.76 78.26,373.17 78.72,373.79 79.19,374.61 79.66,375.61 80.13,376.76 80.6,378.05 81.07,379.44 81.54,380.92 82,382.45 82.47,384.02 82.94,385.6 83.41,387.15 83.88,388.66 84.35,390.11 84.82,391.46 85.28,392.69 85.75,393.8 86.22,394.74 86.69,395.52 87.16,396.11 87.63,396.5 88.1,396.67 88.56,396.61 89.03,396.32 89.5,395.79 89.97,395.02 90.44,393.99 90.91,392.72 91.38,391.2 91.84,389.44 92.31,387.45 92.78,385.23 93.25,382.79 93.72,380.15 94.19,377.31 94.66,374.3 95.12,371.14 95.59,367.83 96.06,364.41 96.53,360.89 97,357.29 97.47,353.64 97.94,349.96 98.4,346.27 98.87,342.61 99.34,338.98 99.81,335.43 100.28,331.96 100.75,328.6 101.22,325.38 101.68,322.31 102.15,319.42 102.62,316.72 103.09,314.22 103.56,311.95 104.03,309.92 104.49,308.13 104.96,306.6 105.43,305.34 105.9,304.34 106.37,303.63 106.84,303.18 107.31,303.01 107.77,303.12 108.24,303.5 108.71,304.14 109.18,305.04 109.65,306.2 110.12,307.59 110.59,309.21 111.05,311.05 111.52,313.1 111.99,315.34 112.46,317.75 112.93,320.33 113.4,323.06 113.87,325.92 114.33,328.89 114.8,331.97 115.27,335.13 115.74,338.36 116.21,341.65 116.68,344.98 117.15,348.34 117.61,351.71 118.08,355.09 118.55,358.45 119.02,361.79 119.49,365.1 119.96,368.37 120.43,371.59 120.89,374.75 121.36,377.84 121.83,380.86 122.3,383.81 122.77,386.67 123.24,389.44 123.71,392.12 124.17,394.71 124.64,397.2 125.11,399.6 125.58,401.89 126.05,404.09 126.52,406.2 126.99,408.2 127.45,410.11 127.92,411.92 128.39,413.64 128.86,415.26 129.33,416.8 129.8,418.25 130.26,419.62 130.73,420.91 131.2,422.11 131.67,423.25 132.14,424.31 132.61,425.3 133.08,426.22 133.54,427.08 134.01,427.89 134.48,428.63 134.95,429.32 135.42,429.97 135.89,430.56 136.36,431.11 136.82,431.62 137.29,432.08 137.76,432.51 138.23,432.91 138.7,433.27 139.17,433.61 139.64,433.91 140.1,434.19 140.57,434.45 141.04,434.68 141.51,434.89 141.98,435.08 142.45,435.26 142.92,435.42 143.38,435.56 143.85,435.69 144.32,435.8 144.79,435.91 145.26,436 145.73,436.08 146.2,436.16 146.66,436.22 147.13,436.28 147.6,436.33 148.07,436.37 148.54,436.4 149.01,436.43 149.48,436.46 149.94,436.48 150.41,436.49 150.88,436.5 151.35,436.51 151.82,436.52 152.29,436.52 152.76,436.51 153.22,436.51 153.69,436.5 154.16,436.49 154.63,436.48 155.1,436.47 155.57,436.45 156.04,436.43 156.5,436.42 156.97,436.4 157.44,436.38 157.91,436.36 158.38,436.34 158.85,436.32 159.31,436.29 159.78,436.27 160.25,436.25 160.72,436.23 161.19,436.21 161.66,436.19 162.13,436.17 162.59,436.15 163.06,436.13 163.53,436.12 164,436.1 164.47,436.09 164.94,436.07 165.41,436.06 165.87,436.05 166.34,436.04 166.81,436.03 167.28,436.03 167.75,436.02 168.22,436.02 168.69,436.02 169.15,436.02 169.62,436.02 170.09,436.03 170.56,436.03 171.03,436.04 171.5,436.05 171.97,436.06 172.43,436.07 172.9,436.09 173.37,436.11 173.84,436.13 174.31,436.15 174.78,436.17 175.25,436.19 175.71,436.21 176.18,436.24 176.65,436.27 177.12,436.3 177.59,436.33 178.06,436.36 178.53,436.39 178.99,436.42 179.46,436.46 179.93,436.49 180.4,436.53 180.87,436.56 181.34,436.6 181.81,436.64 182.27,436.67 182.74,436.71 183.21,436.75 183.68,436.79 184.15,436.83 184.62,436.87 185.08,436.9 185.55,436.94 186.02,436.98 186.49,437.02 186.96,437.06 187.43,437.09 187.9,437.13 188.36,437.17 188.83,437.2 189.3,437.24 189.77,437.28 190.24,437.31 190.71,437.34 191.18,437.38 191.64,437.41 192.11,437.44 192.58,437.47 193.05,437.5 193.52,437.53 193.99,437.56 194.46,437.59 194.92,437.62 195.39,437.64 195.86,437.67 196.33,437.69 196.8,437.72 197.27,437.74 197.74,437.76 198.2,437.79 198.67,437.81 199.14,437.83 199.61,437.85 200.08,437.86 200.55,437.88 201.02,437.9 201.48,437.91 201.95,437.93 202.42,437.95 202.89,437.96 203.36,437.97 203.83,437.99 204.3,438 204.76,438.01 205.23,438.02 205.7,438.03 206.17,438.04 206.64,438.05 207.11,438.06 207.58,438.07 208.04,438.08 208.51,438.09 208.98,438.09 209.45,438.1 209.92,438.11 210.39,438.11 210.86,438.12 211.32,438.12 211.79,438.13 212.26,438.13 212.73,438.14 213.2,438.14 213.67,438.15 214.13,438.15 214.6,438.15 215.07,438.16 215.54,438.16 216.01,438.16 216.48,438.17 216.95,438.17 217.41,438.17 217.88,438.17 218.35,438.17 218.82,438.18 219.29,438.18 219.76,438.18 220.23,438.18 220.69,438.18 221.16,438.18 221.63,438.19 222.1,438.19 222.57,438.19 223.04,438.19 223.51,438.19 223.97,438.19 224.44,438.19 224.91,438.19 225.38,438.19 225.85,438.19 226.32,438.19 226.79,438.19 227.25,438.19 227.72,438.2 228.19,438.2 228.66,438.2 229.13,438.2 229.6,438.2 230.07,438.2 230.53,438.2 231,438.2 231.47,438.2 231.94,438.2 232.41,438.2 232.88,438.2 233.35,438.2 233.81,438.2 234.28,438.2 234.75,438.2 235.22,438.2 235.69,438.2 236.16,438.2 236.63,438.2 237.09,438.2 237.56,438.2 238.03,438.2 238.5,438.2 238.97,438.2 239.44,438.2 239.9,438.2 240.37,438.2 240.84,438.2 241.31,438.2" fill="none" stroke="#000" stroke-width="1.15" stroke-linejoin="round"/>
</g>
<rect x="39.4" y="267.5" width="199.1" height="177.5" fill="none" stroke="#666" stroke-width="0.7"/>
<rect x="166.5" y="274" width="72" height="44" fill="#fff" stroke="#555" stroke-width="0.6"/>
<line x1="171.5" y1="281.5" x2="183.9" y2="281.5" stroke="#86c8ef" stroke-width="1.4"/>
<text x="188.5" y="283.65" font-size="6.25" fill="#000" stroke="#000" stroke-width="0.06">observed</text>
<line x1="171.5" y1="288.8" x2="183.9" y2="288.8" stroke="#000" stroke-width="1.4"/>
<text x="188.5" y="290.95" font-size="6.25" fill="#000" stroke="#000" stroke-width="0.06">full model</text>
<line x1="171.5" y1="296.1" x2="183.9" y2="296.1" stroke="#F0E442" stroke-width="1.4"/>
<text x="188.5" y="298.25" font-size="6.25" fill="#000" stroke="#000" stroke-width="0.06">unique sequence</text>
<line x1="171.5" y1="303.4" x2="183.9" y2="303.4" stroke="#e07a3a" stroke-width="1.4"/>
<text x="188.5" y="305.55" font-size="6.25" fill="#000" stroke="#000" stroke-width="0.06">errors</text>
<line x1="171.5" y1="310.7" x2="183.9" y2="310.7" stroke="#222" stroke-width="0.9" stroke-dasharray="4.7,3.1"/>
<text x="188.5" y="312.85" font-size="6.25" fill="#000" stroke="#000" stroke-width="0.06">kmer-peaks</text>
<line x1="46.2" y1="445" x2="46.2" y2="449" stroke="#666" stroke-width="0.6"/>
<text x="46.2" y="458.6" font-size="7.1" text-anchor="middle" fill="#111" stroke="#111" stroke-width="0.1">0</text>
<line x1="85.2" y1="445" x2="85.2" y2="449" stroke="#666" stroke-width="0.6"/>
<text x="85.2" y="458.6" font-size="7.1" text-anchor="middle" fill="#111" stroke="#111" stroke-width="0.1">100</text>
<line x1="124.2" y1="445" x2="124.2" y2="449" stroke="#666" stroke-width="0.6"/>
<text x="124.2" y="458.6" font-size="7.1" text-anchor="middle" fill="#111" stroke="#111" stroke-width="0.1">200</text>
<line x1="163.2" y1="445" x2="163.2" y2="449" stroke="#666" stroke-width="0.6"/>
<text x="163.2" y="458.6" font-size="7.1" text-anchor="middle" fill="#111" stroke="#111" stroke-width="0.1">300</text>
<line x1="202.2" y1="445" x2="202.2" y2="449" stroke="#666" stroke-width="0.6"/>
<text x="202.2" y="458.6" font-size="7.1" text-anchor="middle" fill="#111" stroke="#111" stroke-width="0.1">400</text>
<line x1="35.4" y1="438.2" x2="39.4" y2="438.2" stroke="#666" stroke-width="0.6"/>
<text transform="translate(30.1,438.2) rotate(-90)" font-size="7.5" text-anchor="middle" fill="#111" stroke="#111" stroke-width="0.1">0</text>
<line x1="35.4" y1="411.4" x2="39.4" y2="411.4" stroke="#666" stroke-width="0.6"/>
<text transform="translate(30.1,411.4) rotate(-90)" font-size="7.5" text-anchor="middle" fill="#111" stroke="#111" stroke-width="0.1">200000</text>
<line x1="35.4" y1="384.6" x2="39.4" y2="384.6" stroke="#666" stroke-width="0.6"/>
<line x1="35.4" y1="357.8" x2="39.4" y2="357.8" stroke="#666" stroke-width="0.6"/>
<text transform="translate(30.1,357.8) rotate(-90)" font-size="7.5" text-anchor="middle" fill="#111" stroke="#111" stroke-width="0.1">600000</text>
<line x1="35.4" y1="331" x2="39.4" y2="331" stroke="#666" stroke-width="0.6"/>
<line x1="35.4" y1="304.2" x2="39.4" y2="304.2" stroke="#666" stroke-width="0.6"/>
<text transform="translate(30.1,304.2) rotate(-90)" font-size="7.5" text-anchor="middle" fill="#111" stroke="#111" stroke-width="0.1">1000000</text>
<line x1="35.4" y1="277.4" x2="39.4" y2="277.4" stroke="#666" stroke-width="0.6"/>
<text x="138.95" y="473.4" font-size="7.2" text-anchor="middle" fill="#111" stroke="#111" stroke-width="0.1">Coverage</text>
<text transform="translate(14.6,356.25) rotate(-90)" font-size="7.3" text-anchor="middle" fill="#111" stroke="#111" stroke-width="0.1">Frequency</text>
<text x="138.95" y="250.6" font-size="7.2" font-weight="bold" text-anchor="middle" textLength="76.3" lengthAdjust="spacingAndGlyphs">GenomeScope Profile</text>
<text x="39.6" y="256.9" font-size="4.7" font-weight="bold" textLength="198.1" lengthAdjust="spacingAndGlyphs" style="white-space:pre">len:87,467,680bp uniq:92.3%  het:0.619% kcov:79.5 err:0.445%  dup:3.81%  k:25</text>
<text x="1.4" y="264.9" font-size="11.4" style="font-family:'DejaVu Sans',sans-serif" fill="#1a1a1a" textLength="12.6" lengthAdjust="spacingAndGlyphs">(c)</text>
<clipPath id="clipd"><rect x="283.3" y="267.5" width="199.9" height="177.5"/></clipPath>
<g clip-path="url(#clipd)">
<rect x="290.7" y="262.5" width="197.5" height="175.7" fill="#d3d3d3"/>
<path d="M290.7,265C291.92,265 296.57,261.02 298,265C299.43,268.98 298.78,281.93 299.3,288.9C299.82,295.87 300.5,301.62 301.1,306.8C301.7,311.98 302.2,315.82 302.9,320C303.6,324.18 304.3,327.92 305.3,331.9C306.3,335.88 307.5,339.92 308.9,343.9C310.3,347.88 311.92,351.82 313.7,355.8C315.48,359.78 317.62,364.6 319.6,367.8C321.58,371 323.7,373.25 325.6,375C327.5,376.75 329.27,377.43 331,378.3C332.73,379.17 334.5,379.82 336,380.2C337.5,380.58 338.83,380.93 340,380.6C341.17,380.27 342,379.27 343,378.2C344,377.13 345,376.27 346,374.2C347,372.13 348.2,369.18 349,365.8C349.8,362.42 350.22,357.88 350.8,353.9C351.38,349.92 351.82,345.05 352.5,341.9C353.18,338.75 354.3,337.85 354.9,335C355.5,332.15 355.72,327.77 356.1,324.8C356.48,321.83 356.82,319.73 357.2,317.2C357.58,314.67 357.95,312.13 358.4,309.6C358.85,307.07 359.42,304.53 359.9,302C360.38,299.47 360.85,296.42 361.3,294.4C361.75,292.38 362.2,290.85 362.6,289.9C363,288.95 363.33,288.7 363.7,288.7C364.07,288.7 364.4,288.95 364.8,289.9C365.2,290.85 365.68,292.38 366.1,294.4C366.52,296.42 366.88,299.47 367.3,302C367.72,304.53 368.17,307.07 368.6,309.6C369.03,312.13 369.48,314.67 369.9,317.2C370.32,319.73 370.68,321.83 371.1,324.8C371.52,327.77 372.1,331.55 372.4,335C372.7,338.45 372.38,340.95 372.9,345.5C373.42,350.05 374.47,356.92 375.5,362.3C376.53,367.68 378.62,374.85 379.1,377.8C379.58,380.75 378.38,378.75 378.4,380C378.42,381.25 378.63,382.2 379.2,385.3C379.77,388.4 380.78,394.33 381.8,398.6C382.82,402.87 383.95,406.98 385.3,410.9C386.65,414.82 388.37,419.2 389.9,422.1C391.43,425 392.87,426.67 394.5,428.3C396.13,429.93 397.73,431 399.7,431.9C401.67,432.8 403.58,433.23 406.3,433.7C409.02,434.17 412.75,434.4 416,434.7C419.25,435 421.8,435.32 425.8,435.5C429.8,435.68 430.13,435.52 440,435.8C449.87,436.08 477.5,436.97 485,437.2L485,438.2 L290.7,438.2 Z" fill="#56B4E9"/>
<line x1="327.5" y1="267.5" x2="327.5" y2="445" stroke="#3a3a3a" stroke-width="0.8" stroke-dasharray="1.6,1.05"/>
<line x1="363.5" y1="267.5" x2="363.5" y2="445" stroke="#3a3a3a" stroke-width="0.8" stroke-dasharray="1.6,1.05"/>
<line x1="399.5" y1="267.5" x2="399.5" y2="445" stroke="#3a3a3a" stroke-width="0.8" stroke-dasharray="1.6,1.05"/>
<line x1="435.5" y1="267.5" x2="435.5" y2="445" stroke="#3a3a3a" stroke-width="0.8" stroke-dasharray="1.6,1.05"/>
<path d="M297.3,265C297.53,268.98 298.17,281.93 298.7,288.9C299.23,295.87 299.9,301.62 300.5,306.8C301.1,311.98 301.7,315.82 302.3,320C302.9,324.18 303.4,327.92 304.1,331.9C304.8,335.88 305.8,339.92 306.5,343.9C307.2,347.88 307.7,351.82 308.3,355.8C308.9,359.78 309.53,364.1 310.1,367.8C310.67,371.5 311.23,374.47 311.7,378C312.17,381.53 312.35,384.85 312.9,389C313.45,393.15 314.3,398.27 315,402.9C315.7,407.53 316.4,412.15 317.1,416.8C317.8,421.45 318.62,427.18 319.2,430.8C319.78,434.42 320.37,437.22 320.6,438.5 L327.5,438.5" fill="none" stroke="#D55E00" stroke-width="1.2" stroke-linejoin="round"/>
<path d="M318.42,379.63 319,376.9 319.59,374.35 320.18,372.01 320.76,369.89 321.35,368.01 321.94,366.37 322.52,364.99 323.11,363.87 323.7,363 324.28,362.4 324.87,362.05 325.46,361.94 326.04,362.07 326.63,362.41 327.22,362.96 327.8,363.69 328.39,364.58 328.98,365.62 329.56,366.78 330.15,368.04 330.74,369.36 331.32,370.74 331.91,372.13 332.5,373.52 333.08,374.88 333.67,376.16 334.26,377.33 334.84,378.41 335.43,379.37 336.02,380.2 336.6,380.88 337.19,381.4 337.78,381.73 338.36,381.86 338.95,381.79 339.54,381.5 340.12,381 340.71,380.26 M382.36,395.27 382.95,397.7 383.53,400.05 384.12,402.3 384.71,404.46 385.29,406.53 385.88,408.51 386.47,410.4 387.05,412.2 387.64,413.91 388.23,415.53 388.81,417.07 389.4,418.53 389.99,419.9 390.57,421.2 391.16,422.43 391.75,423.58 392.33,424.66 392.92,425.68 393.51,426.63 394.09,427.52 394.68,428.35 395.27,429.12 395.85,429.85 396.44,430.52 397.03,431.15 397.61,431.73 398.2,432.27 398.79,432.77 399.37,433.23 399.96,433.66 400.55,434.05 401.13,434.41 401.72,434.75 402.31,435.06 402.89,435.34 403.48,435.6 404.07,435.84 404.65,436.05 405.24,436.25 405.83,436.44 406.41,436.6 407,436.76 407.59,436.89 408.17,437.02 408.76,437.14 409.35,437.24 409.93,437.34 410.52,437.42 411.11,437.5 411.69,437.57 412.28,437.64 412.87,437.69 413.45,437.75 414.04,437.79 414.63,437.84 415.21,437.87 415.8,437.91 416.39,437.94 416.97,437.97 417.56,437.99 418.15,438.01 418.73,438.03 419.32,438.05 419.91,438.07 420.49,438.08 421.08,438.1 421.67,438.11 422.25,438.12 422.84,438.13 423.43,438.14 424.01,438.14 424.6,438.15 425.19,438.16 425.77,438.16 426.36,438.17 426.95,438.17 427.53,438.17 428.12,438.18 428.71,438.18 429.29,438.18 429.88,438.18 430.47,438.19 431.05,438.19 431.64,438.19 432.23,438.19 432.81,438.19 433.4,438.19 433.99,438.19 434.57,438.19 435.16,438.19 435.75,438.2 436.33,438.2 436.92,438.2 437.51,438.2 438.09,438.2 438.68,438.2 439.27,438.2 439.85,438.2 440.44,438.2 441.03,438.2 441.61,438.2 442.2,438.2 442.79,438.2 443.37,438.2 443.96,438.2 444.55,438.2 445.13,438.2 445.72,438.2 446.31,438.2 446.89,438.2 447.48,438.2 448.07,438.2 448.65,438.2 449.24,438.2 449.82,438.2 450.41,438.2 451,438.2 451.58,438.2 452.17,438.2 452.76,438.2 453.34,438.2 453.93,438.2 454.52,438.2 455.1,438.2 455.69,438.2 456.28,438.2 456.86,438.2 457.45,438.2 458.04,438.2 458.62,438.2 459.21,438.2 459.8,438.2 460.38,438.2 460.97,438.2 461.56,438.2 462.14,438.2 462.73,438.2 463.32,438.2 463.9,438.2 464.49,438.2 465.08,438.2 465.66,438.2 466.25,438.2 466.84,438.2 467.42,438.2 468.01,438.2 468.6,438.2 469.18,438.2 469.77,438.2 470.36,438.2 470.94,438.2 471.53,438.2 472.12,438.2" fill="none" stroke="#F0E442" stroke-width="1.1" stroke-linejoin="round"/>
<path d="M290.84,438.2 291.43,438.2 292.02,438.2 292.6,438.2 293.19,438.2 293.78,438.2 294.36,438.2 294.95,438.2 295.54,438.2 296.12,438.2 296.71,438.19 297.3,438.18 297.88,438.17 298.47,438.15 299.06,438.12 299.64,438.07 300.23,437.99 300.82,437.88 301.4,437.74 301.99,437.54 302.58,437.27 303.16,436.92 303.75,436.48 304.34,435.93 304.92,435.25 305.51,434.43 306.1,433.46 306.68,432.31 307.27,430.97 307.86,429.45 308.44,427.72 309.03,425.8 309.62,423.66 310.2,421.33 310.79,418.81 311.38,416.1 311.96,413.23 312.55,410.21 313.14,407.07 313.72,403.82 314.31,400.51 314.9,397.15 315.48,393.77 316.07,390.42 316.66,387.11 317.24,383.88 317.83,380.77 318.42,377.79 319,374.98 319.59,372.35 320.18,369.94 320.76,367.75 321.35,365.81 321.94,364.12 322.52,362.7 323.11,361.54 323.7,360.65 324.28,360.03 324.87,359.67 325.46,359.56 326.04,359.7 326.63,360.06 327.22,360.63 327.8,361.39 328.39,362.32 328.98,363.4 329.56,364.61 330.15,365.91 330.74,367.29 331.32,368.73 331.91,370.19 332.5,371.64 333.08,373.07 333.67,374.45 334.26,375.76 334.84,376.96 335.43,378.05 336.02,379 336.6,379.8 337.19,380.42 337.78,380.85 338.36,381.08 338.95,381.09 339.54,380.89 340.12,380.46 340.71,379.79 341.3,378.9 341.88,377.77 342.47,376.41 343.06,374.83 343.64,373.03 344.23,371.03 344.82,368.83 345.4,366.45 345.99,363.91 346.58,361.21 347.16,358.39 347.75,355.46 348.34,352.44 348.92,349.35 349.51,346.22 350.1,343.06 350.68,339.91 351.27,336.78 351.86,333.7 352.44,330.7 353.03,327.78 353.62,324.98 354.2,322.31 354.79,319.8 355.38,317.45 355.96,315.29 356.55,313.33 357.14,311.59 357.72,310.07 358.31,308.79 358.89,307.74 359.48,306.95 360.07,306.4 360.65,306.11 361.24,306.07 361.83,306.28 362.41,306.75 363,307.45 363.59,308.39 364.17,309.57 364.76,310.96 365.35,312.57 365.93,314.37 366.52,316.37 367.11,318.54 367.69,320.87 368.28,323.35 368.87,325.97 369.45,328.71 370.04,331.55 370.63,334.49 371.21,337.51 371.8,340.59 372.39,343.72 372.97,346.89 373.56,350.09 374.15,353.29 374.73,356.5 375.32,359.7 375.91,362.88 376.49,366.03 377.08,369.14 377.67,372.21 378.25,375.22 378.84,378.17 379.43,381.05 380.01,383.86 380.6,386.59 381.19,389.25 381.77,391.82 382.36,394.3 382.95,396.69 383.53,399 384.12,401.21 384.71,403.33 385.29,405.36 385.88,407.3 386.47,409.15 387.05,410.91 387.64,412.59 388.23,414.18 388.81,415.68 389.4,417.1 389.99,418.45 390.57,419.72 391.16,420.91 391.75,422.04 392.33,423.09 392.92,424.08 393.51,425.01 394.09,425.88 394.68,426.69 395.27,427.44 395.85,428.15 396.44,428.81 397.03,429.42 397.61,429.99 398.2,430.51 398.79,431 399.37,431.46 399.96,431.88 400.55,432.26 401.13,432.62 401.72,432.95 402.31,433.26 402.89,433.54 403.48,433.8 404.07,434.04 404.65,434.26 405.24,434.46 405.83,434.64 406.41,434.81 407,434.97 407.59,435.11 408.17,435.24 408.76,435.36 409.35,435.47 409.93,435.57 410.52,435.66 411.11,435.74 411.69,435.81 412.28,435.88 412.87,435.94 413.45,436 414.04,436.05 414.63,436.1 415.21,436.14 415.8,436.17 416.39,436.21 416.97,436.24 417.56,436.26 418.15,436.29 418.73,436.31 419.32,436.33 419.91,436.35 420.49,436.36 421.08,436.38 421.67,436.39 422.25,436.4 422.84,436.41 423.43,436.42 424.01,436.43 424.6,436.44 425.19,436.44 425.77,436.45 426.36,436.46 426.95,436.47 427.53,436.47 428.12,436.48 428.71,436.49 429.29,436.5 429.88,436.5 430.47,436.51 431.05,436.52 431.64,436.53 432.23,436.54 432.81,436.55 433.4,436.56 433.99,436.57 434.57,436.59 435.16,436.6 435.75,436.61 436.33,436.63 436.92,436.64 437.51,436.66 438.09,436.68 438.68,436.69 439.27,436.71 439.85,436.73 440.44,436.75 441.03,436.77 441.61,436.8 442.2,436.82 442.79,436.84 443.37,436.86 443.96,436.89 444.55,436.91 445.13,436.94 445.72,436.96 446.31,436.99 446.89,437.01 447.48,437.04 448.07,437.07 448.65,437.09 449.24,437.12 449.82,437.15 450.41,437.17 451,437.2 451.58,437.23 452.17,437.26 452.76,437.28 453.34,437.31 453.93,437.34 454.52,437.36 455.1,437.39 455.69,437.42 456.28,437.44 456.86,437.47 457.45,437.49 458.04,437.52 458.62,437.54 459.21,437.57 459.8,437.59 460.38,437.61 460.97,437.64 461.56,437.66 462.14,437.68 462.73,437.7 463.32,437.72 463.9,437.74 464.49,437.76 465.08,437.78 465.66,437.8 466.25,437.82 466.84,437.83 467.42,437.85 468.01,437.87 468.6,437.88 469.18,437.9 469.77,437.91 470.36,437.93 470.94,437.94 471.53,437.95 472.12,437.97 472.7,437.98 473.29,437.99 473.88,438 474.46,438.01 475.05,438.02 475.64,438.03 476.22,438.04 476.81,438.05 477.4,438.06 477.98,438.07 478.57,438.07 479.16,438.08 479.74,438.09 480.33,438.09 480.92,438.1 481.5,438.11 482.09,438.11 482.68,438.12 483.26,438.12 483.85,438.13 484.44,438.13 485.02,438.14 485.61,438.14 486.2,438.14" fill="none" stroke="#000" stroke-width="1.15" stroke-linejoin="round"/>
</g>
<rect x="283.3" y="267.5" width="199.9" height="177.5" fill="none" stroke="#666" stroke-width="0.7"/>
<rect x="411.2" y="274" width="72" height="44" fill="#fff" stroke="#555" stroke-width="0.6"/>
<line x1="416.2" y1="281.5" x2="428.6" y2="281.5" stroke="#86c8ef" stroke-width="1.4"/>
<text x="433.2" y="283.65" font-size="6.25" fill="#000" stroke="#000" stroke-width="0.06">observed</text>
<line x1="416.2" y1="288.8" x2="428.6" y2="288.8" stroke="#000" stroke-width="1.4"/>
<text x="433.2" y="290.95" font-size="6.25" fill="#000" stroke="#000" stroke-width="0.06">full model</text>
<line x1="416.2" y1="296.1" x2="428.6" y2="296.1" stroke="#F0E442" stroke-width="1.4"/>
<text x="433.2" y="298.25" font-size="6.25" fill="#000" stroke="#000" stroke-width="0.06">unique sequence</text>
<line x1="416.2" y1="303.4" x2="428.6" y2="303.4" stroke="#e07a3a" stroke-width="1.4"/>
<text x="433.2" y="305.55" font-size="6.25" fill="#000" stroke="#000" stroke-width="0.06">errors</text>
<line x1="416.2" y1="310.7" x2="428.6" y2="310.7" stroke="#222" stroke-width="0.9" stroke-dasharray="4.7,3.1"/>
<text x="433.2" y="312.85" font-size="6.25" fill="#000" stroke="#000" stroke-width="0.06">kmer-peaks</text>
<line x1="290.6" y1="445" x2="290.6" y2="449" stroke="#666" stroke-width="0.6"/>
<text x="290.6" y="458.6" font-size="7.1" text-anchor="middle" fill="#111" stroke="#111" stroke-width="0.1">0</text>
<line x1="339.43" y1="445" x2="339.43" y2="449" stroke="#666" stroke-width="0.6"/>
<text x="339.43" y="458.6" font-size="7.1" text-anchor="middle" fill="#111" stroke="#111" stroke-width="0.1">100</text>
<line x1="388.26" y1="445" x2="388.26" y2="449" stroke="#666" stroke-width="0.6"/>
<text x="388.26" y="458.6" font-size="7.1" text-anchor="middle" fill="#111" stroke="#111" stroke-width="0.1">200</text>
<line x1="437.09" y1="445" x2="437.09" y2="449" stroke="#666" stroke-width="0.6"/>
<text x="437.09" y="458.6" font-size="7.1" text-anchor="middle" fill="#111" stroke="#111" stroke-width="0.1">300</text>
<line x1="279.3" y1="438.2" x2="283.3" y2="438.2" stroke="#666" stroke-width="0.6"/>
<text transform="translate(274,438.2) rotate(-90)" font-size="7.5" text-anchor="middle" fill="#111" stroke="#111" stroke-width="0.1">0</text>
<line x1="279.3" y1="411.4" x2="283.3" y2="411.4" stroke="#666" stroke-width="0.6"/>
<text transform="translate(274,411.4) rotate(-90)" font-size="7.5" text-anchor="middle" fill="#111" stroke="#111" stroke-width="0.1">200000</text>
<line x1="279.3" y1="384.6" x2="283.3" y2="384.6" stroke="#666" stroke-width="0.6"/>
<line x1="279.3" y1="357.8" x2="283.3" y2="357.8" stroke="#666" stroke-width="0.6"/>
<text transform="translate(274,357.8) rotate(-90)" font-size="7.5" text-anchor="middle" fill="#111" stroke="#111" stroke-width="0.1">600000</text>
<line x1="279.3" y1="331" x2="283.3" y2="331" stroke="#666" stroke-width="0.6"/>
<line x1="279.3" y1="304.2" x2="283.3" y2="304.2" stroke="#666" stroke-width="0.6"/>
<text transform="translate(274,304.2) rotate(-90)" font-size="7.5" text-anchor="middle" fill="#111" stroke="#111" stroke-width="0.1">1000000</text>
<line x1="279.3" y1="277.4" x2="283.3" y2="277.4" stroke="#666" stroke-width="0.6"/>
<text x="383.25" y="473.4" font-size="7.2" text-anchor="middle" fill="#111" stroke="#111" stroke-width="0.1">Coverage</text>
<text transform="translate(258.5,356.25) rotate(-90)" font-size="7.3" text-anchor="middle" fill="#111" stroke="#111" stroke-width="0.1">Frequency</text>
<text x="383.25" y="250.6" font-size="7.2" font-weight="bold" text-anchor="middle" textLength="76.3" lengthAdjust="spacingAndGlyphs">GenomeScope Profile</text>
<text x="286.3" y="256.9" font-size="4.7" font-weight="bold" textLength="191.2" lengthAdjust="spacingAndGlyphs" style="white-space:pre">len:88,051,949bp uniq:94.7%  het:0.6% kcov:74.2 err:0.402%  dup:4.41%  k:31</text>
<text x="258.9" y="266.8" font-size="11.4" style="font-family:'DejaVu Sans',sans-serif" fill="#1a1a1a" textLength="14" lengthAdjust="spacingAndGlyphs">(d)</text>
<defs><clipPath id="hclip"><rect x="31.1" y="493.2" width="191.1" height="191.1"/></clipPath><filter id="hblur" x="-20%" y="-20%" width="140%" height="140%"><feGaussianBlur stdDeviation="0.6"/></filter><filter id="hblur2" x="-20%" y="-20%" width="140%" height="140%"><feGaussianBlur stdDeviation="3"/></filter><clipPath id="hblk"><rect x="31.1" y="493.2" width="72" height="72"/><rect x="103.1" y="565.2" width="64.7" height="64.2"/><rect x="167.8" y="629.4" width="54.4" height="54.9"/></clipPath></defs>
<g clip-path="url(#hclip)">
<rect x="31.1" y="493.2" width="191.1" height="191.1" fill="#fde8e9"/>
<rect x="31.1" y="493.2" width="0.8" height="191.1" fill="#fff" opacity="0.22"/>
<rect x="31.1" y="493.2" width="191.1" height="0.8" fill="#fff" opacity="0.22"/>
<rect x="41.05" y="493.2" width="0.8" height="191.1" fill="#fff" opacity="0.22"/>
<rect x="31.1" y="503.15" width="191.1" height="0.8" fill="#fff" opacity="0.22"/>
<rect x="43.04" y="493.2" width="0.8" height="191.1" fill="#fff" opacity="0.22"/>
<rect x="31.1" y="505.14" width="191.1" height="0.8" fill="#fff" opacity="0.22"/>
<rect x="47.02" y="493.2" width="0.8" height="191.1" fill="#fff" opacity="0.22"/>
<rect x="31.1" y="509.12" width="191.1" height="0.8" fill="#fff" opacity="0.22"/>
<rect x="49.02" y="493.2" width="0.8" height="191.1" fill="#fff" opacity="0.22"/>
<rect x="31.1" y="511.12" width="191.1" height="0.8" fill="#fff" opacity="0.22"/>
<rect x="60.96" y="493.2" width="0.8" height="191.1" fill="#fff" opacity="0.22"/>
<rect x="31.1" y="523.06" width="191.1" height="0.8" fill="#fff" opacity="0.22"/>
<rect x="72.9" y="493.2" width="0.8" height="191.1" fill="#fff" opacity="0.22"/>
<rect x="31.1" y="535" width="191.1" height="0.8" fill="#fff" opacity="0.22"/>
<rect x="78.88" y="493.2" width="0.8" height="191.1" fill="#fff" opacity="0.22"/>
<rect x="31.1" y="540.98" width="191.1" height="0.8" fill="#fff" opacity="0.22"/>
<rect x="80.87" y="493.2" width="0.8" height="191.1" fill="#fff" opacity="0.22"/>
<rect x="31.1" y="542.97" width="191.1" height="0.8" fill="#fff" opacity="0.22"/>
<rect x="104.75" y="493.2" width="0.8" height="191.1" fill="#fff" opacity="0.22"/>
<rect x="31.1" y="566.85" width="191.1" height="0.8" fill="#fff" opacity="0.22"/>
<rect x="106.74" y="493.2" width="0.8" height="191.1" fill="#fff" opacity="0.22"/>
<rect x="31.1" y="568.84" width="191.1" height="0.8" fill="#fff" opacity="0.22"/>
<rect x="108.73" y="493.2" width="0.8" height="191.1" fill="#fff" opacity="0.22"/>
<rect x="31.1" y="570.83" width="191.1" height="0.8" fill="#fff" opacity="0.22"/>
<rect x="116.7" y="493.2" width="0.8" height="191.1" fill="#fff" opacity="0.22"/>
<rect x="31.1" y="578.8" width="191.1" height="0.8" fill="#fff" opacity="0.22"/>
<rect x="140.58" y="493.2" width="0.8" height="191.1" fill="#fff" opacity="0.22"/>
<rect x="31.1" y="602.68" width="191.1" height="0.8" fill="#fff" opacity="0.22"/>
<rect x="152.53" y="493.2" width="0.8" height="191.1" fill="#fff" opacity="0.22"/>
<rect x="31.1" y="614.63" width="191.1" height="0.8" fill="#fff" opacity="0.22"/>
<rect x="158.5" y="493.2" width="0.8" height="191.1" fill="#fff" opacity="0.22"/>
<rect x="31.1" y="620.6" width="191.1" height="0.8" fill="#fff" opacity="0.22"/>
<rect x="160.49" y="493.2" width="0.8" height="191.1" fill="#fff" opacity="0.22"/>
<rect x="31.1" y="622.59" width="191.1" height="0.8" fill="#fff" opacity="0.22"/>
<rect x="166.46" y="493.2" width="0.8" height="191.1" fill="#fff" opacity="0.22"/>
<rect x="31.1" y="628.56" width="191.1" height="0.8" fill="#fff" opacity="0.22"/>
<rect x="172.43" y="493.2" width="0.8" height="191.1" fill="#fff" opacity="0.22"/>
<rect x="31.1" y="634.53" width="191.1" height="0.8" fill="#fff" opacity="0.22"/>
<rect x="174.42" y="493.2" width="0.8" height="191.1" fill="#fff" opacity="0.22"/>
<rect x="31.1" y="636.52" width="191.1" height="0.8" fill="#fff" opacity="0.22"/>
<rect x="180.4" y="493.2" width="0.8" height="191.1" fill="#fff" opacity="0.22"/>
<rect x="31.1" y="642.5" width="191.1" height="0.8" fill="#fff" opacity="0.22"/>
<rect x="184.38" y="493.2" width="0.8" height="191.1" fill="#fff" opacity="0.22"/>
<rect x="31.1" y="646.48" width="191.1" height="0.8" fill="#fff" opacity="0.22"/>
<rect x="188.36" y="493.2" width="0.8" height="191.1" fill="#fff" opacity="0.22"/>
<rect x="31.1" y="650.46" width="191.1" height="0.8" fill="#fff" opacity="0.22"/>
<rect x="198.31" y="493.2" width="0.8" height="191.1" fill="#fff" opacity="0.22"/>
<rect x="31.1" y="660.41" width="191.1" height="0.8" fill="#fff" opacity="0.22"/>
<rect x="200.3" y="493.2" width="0.8" height="191.1" fill="#fff" opacity="0.22"/>
<rect x="31.1" y="662.4" width="191.1" height="0.8" fill="#fff" opacity="0.22"/>
<rect x="204.28" y="493.2" width="0.8" height="191.1" fill="#fff" opacity="0.22"/>
<rect x="31.1" y="666.38" width="191.1" height="0.8" fill="#fff" opacity="0.22"/>
<rect x="206.27" y="493.2" width="0.8" height="191.1" fill="#fff" opacity="0.22"/>
<rect x="31.1" y="668.38" width="191.1" height="0.8" fill="#fff" opacity="0.22"/>
<rect x="212.25" y="493.2" width="0.8" height="191.1" fill="#fff" opacity="0.22"/>
<rect x="31.1" y="674.35" width="191.1" height="0.8" fill="#fff" opacity="0.22"/>
<rect x="214.24" y="493.2" width="0.8" height="191.1" fill="#fff" opacity="0.22"/>
<rect x="31.1" y="676.34" width="191.1" height="0.8" fill="#fff" opacity="0.22"/>
<rect x="218.22" y="493.2" width="0.8" height="191.1" fill="#fff" opacity="0.22"/>
<rect x="31.1" y="680.32" width="191.1" height="0.8" fill="#fff" opacity="0.22"/>
<g clip-path="url(#hblk)"><line x1="21.1" y1="483.2" x2="232.2" y2="694.3" stroke="#ff5050" stroke-width="16" opacity="0.2" filter="url(#hblur2)"/>
<filter id="hblur3" x="-50%%" y="-50%%" width="200%%" height="200%%"><feGaussianBlur stdDeviation="1.6"/></filter><g filter="url(#hblur3)">
<rect x="31.1" y="493.2" width="5.48" height="5.48" fill="#ff3030" opacity="0.18"/>
<rect x="36.58" y="498.68" width="9.71" height="9.71" fill="#ff3030" opacity="0.16"/>
<rect x="46.3" y="508.4" width="5.94" height="5.94" fill="#ff3030" opacity="0.2"/>
<rect x="52.24" y="514.34" width="11.27" height="11.27" fill="#ff3030" opacity="0.16"/>
<rect x="63.51" y="525.61" width="8.55" height="8.55" fill="#ff3030" opacity="0.13"/>
<rect x="72.06" y="534.16" width="4.03" height="4.03" fill="#ff3030" opacity="0.14"/>
<rect x="76.09" y="538.19" width="9.27" height="9.27" fill="#ff3030" opacity="0.11"/>
<rect x="85.36" y="547.46" width="11.14" height="11.14" fill="#ff3030" opacity="0.13"/>
<rect x="96.5" y="558.6" width="6.09" height="6.09" fill="#ff3030" opacity="0.11"/>
<rect x="102.6" y="564.7" width="12.98" height="12.98" fill="#ff3030" opacity="0.19"/>
<rect x="115.57" y="577.67" width="11.88" height="11.88" fill="#ff3030" opacity="0.17"/>
<rect x="127.45" y="589.55" width="4.31" height="4.31" fill="#ff3030" opacity="0.14"/>
<rect x="131.76" y="593.86" width="8.48" height="8.48" fill="#ff3030" opacity="0.11"/>
<rect x="140.23" y="602.33" width="12.57" height="12.57" fill="#ff3030" opacity="0.14"/>
<rect x="152.8" y="614.9" width="5.39" height="5.39" fill="#ff3030" opacity="0.2"/>
<rect x="158.19" y="620.29" width="5.12" height="5.12" fill="#ff3030" opacity="0.21"/>
<rect x="163.32" y="625.42" width="8.08" height="8.08" fill="#ff3030" opacity="0.17"/>
<rect x="171.4" y="633.5" width="7.09" height="7.09" fill="#ff3030" opacity="0.16"/>
<rect x="178.48" y="640.58" width="5.68" height="5.68" fill="#ff3030" opacity="0.1"/>
<rect x="184.16" y="646.26" width="11.79" height="11.79" fill="#ff3030" opacity="0.13"/>
<rect x="195.96" y="658.06" width="11.02" height="11.02" fill="#ff3030" opacity="0.13"/>
<rect x="206.98" y="669.08" width="12.72" height="12.72" fill="#ff3030" opacity="0.21"/>
<rect x="219.7" y="681.8" width="10.79" height="10.79" fill="#ff3030" opacity="0.19"/>
</g>
<line x1="21.1" y1="483.2" x2="232.2" y2="694.3" stroke="#ff2020" stroke-width="5" opacity="0.45" filter="url(#hblur)"/></g>
<line x1="21.1" y1="483.2" x2="232.2" y2="694.3" stroke="#ff0000" stroke-width="1.9" filter="url(#hblur)"/>
</g>
<rect x="31.1" y="493.2" width="72" height="72" fill="none" stroke="#4343f2" stroke-width="0.95"/>
<rect x="103.1" y="565.2" width="64.7" height="64.7" fill="none" stroke="#4343f2" stroke-width="0.95"/>
<rect x="167.8" y="629.9" width="54.4" height="54.4" fill="none" stroke="#4343f2" stroke-width="0.95"/>
<line x1="31.1" y1="490" x2="31.1" y2="493.2" stroke="#3b3bd8" stroke-width="0.7"/>
<line x1="52.82" y1="490" x2="52.82" y2="493.2" stroke="#3b3bd8" stroke-width="0.7"/>
<line x1="74.54" y1="490" x2="74.54" y2="493.2" stroke="#3b3bd8" stroke-width="0.7"/>
<line x1="96.26" y1="490" x2="96.26" y2="493.2" stroke="#3b3bd8" stroke-width="0.7"/>
<line x1="117.98" y1="490" x2="117.98" y2="493.2" stroke="#3b3bd8" stroke-width="0.7"/>
<line x1="139.7" y1="490" x2="139.7" y2="493.2" stroke="#3b3bd8" stroke-width="0.7"/>
<line x1="161.42" y1="490" x2="161.42" y2="493.2" stroke="#3b3bd8" stroke-width="0.7"/>
<line x1="183.14" y1="490" x2="183.14" y2="493.2" stroke="#3b3bd8" stroke-width="0.7"/>
<line x1="204.86" y1="490" x2="204.86" y2="493.2" stroke="#3b3bd8" stroke-width="0.7"/>
<text x="29.8" y="488.4" font-size="7.6" fill="#2d2dd6" stroke="#2d2dd6" stroke-width="0.1" textLength="17.9" lengthAdjust="spacingAndGlyphs">0 MB</text>
<text x="74.54" y="488.4" font-size="7.6" fill="#2d2dd6" stroke="#2d2dd6" stroke-width="0.1" text-anchor="middle">20 MB</text>
<text x="117.98" y="488.4" font-size="7.6" fill="#2d2dd6" stroke="#2d2dd6" stroke-width="0.1" text-anchor="middle">40 MB</text>
<text x="161.42" y="488.4" font-size="7.6" fill="#2d2dd6" stroke="#2d2dd6" stroke-width="0.1" text-anchor="middle">60 MB</text>
<text x="204.86" y="488.4" font-size="7.6" fill="#2d2dd6" stroke="#2d2dd6" stroke-width="0.1" text-anchor="middle">80 MB</text>
<line x1="29" y1="493.2" x2="31.1" y2="493.2" stroke="#2e9a2e" stroke-width="0.7"/>
<line x1="29" y1="514.92" x2="31.1" y2="514.92" stroke="#2e9a2e" stroke-width="0.7"/>
<line x1="29" y1="536.64" x2="31.1" y2="536.64" stroke="#2e9a2e" stroke-width="0.7"/>
<line x1="29" y1="558.36" x2="31.1" y2="558.36" stroke="#2e9a2e" stroke-width="0.7"/>
<line x1="29" y1="580.08" x2="31.1" y2="580.08" stroke="#2e9a2e" stroke-width="0.7"/>
<line x1="29" y1="601.8" x2="31.1" y2="601.8" stroke="#2e9a2e" stroke-width="0.7"/>
<line x1="29" y1="623.52" x2="31.1" y2="623.52" stroke="#2e9a2e" stroke-width="0.7"/>
<line x1="29" y1="645.24" x2="31.1" y2="645.24" stroke="#2e9a2e" stroke-width="0.7"/>
<line x1="29" y1="666.96" x2="31.1" y2="666.96" stroke="#2e9a2e" stroke-width="0.7"/>
<text transform="translate(27.9,498.9) rotate(-90)" font-size="8.1" fill="#2a9a2a" stroke="#2a9a2a" stroke-width="0.12" text-anchor="middle">0 MB</text>
<text transform="translate(27.9,536.64) rotate(-90)" font-size="8.1" fill="#2a9a2a" stroke="#2a9a2a" stroke-width="0.12" text-anchor="middle">20 MB</text>
<text transform="translate(27.9,580.08) rotate(-90)" font-size="8.1" fill="#2a9a2a" stroke="#2a9a2a" stroke-width="0.12" text-anchor="middle">40 MB</text>
<text transform="translate(27.9,623.52) rotate(-90)" font-size="8.1" fill="#2a9a2a" stroke="#2a9a2a" stroke-width="0.12" text-anchor="middle">60 MB</text>
<text transform="translate(27.9,666.96) rotate(-90)" font-size="8.1" fill="#2a9a2a" stroke="#2a9a2a" stroke-width="0.12" text-anchor="middle">80 MB</text>
<text x="0.95" y="495.2" font-size="11.4" fill="#1a1a1a" style="font-family:'DejaVu Sans',sans-serif" textLength="13.85" lengthAdjust="spacingAndGlyphs">(e)</text>
<g stroke="#fff" stroke-width="0.25" stroke-opacity="0.9">
<path d="M289.75,513.8 C289.75,533 292.07,533 292.07,552.2 L288.1,552.2 C288.1,533 292.52,533 292.52,513.8 Z" fill="#d8d8d8" opacity="0.92"/>
<path d="M296.95,513.8 C296.95,533 290.48,533 290.48,552.2 L295.34,552.2 C295.34,533 299.78,533 299.78,513.8 Z" fill="#d8d8d8" opacity="0.92"/>
<path d="M292.52,513.8 C292.52,533 298.17,533 298.17,552.2 L293.8,552.2 C293.8,533 295.04,533 295.04,513.8 Z" fill="#d8d8d8" opacity="0.92"/>
<path d="M288.25,513.8 C288.25,533 297.04,533 297.04,552.2 L298.74,552.2 C298.74,533 289.05,533 289.05,513.8 Z" fill="#d8d8d8" opacity="0.92"/>
<path d="M295.04,513.8 C295.04,533 297.87,533 297.87,552.2 L300.22,552.2 C300.22,533 296.25,533 296.25,513.8 Z" fill="#d8d8d8" opacity="0.92"/>
<path d="M299.78,513.8 C299.78,533 297.24,533 297.24,552.2 L315.19,552.2 C315.19,533 311.05,533 311.05,513.8 Z" fill="#d8d8d8" opacity="0.92"/>
<path d="M331.15,513.8 C331.15,533 314.41,533 314.41,552.2 L312.24,552.2 C312.24,533 332.25,533 332.25,513.8 Z" fill="#d8d8d8" opacity="0.92"/>
<path d="M313.96,513.8 C313.96,533 313.32,533 313.32,552.2 L316.88,552.2 C316.88,533 315.95,533 315.95,513.8 Z" fill="#d8d8d8" opacity="0.92"/>
<path d="M311.75,513.8 C311.75,533 319.46,533 319.46,552.2 L315.57,552.2 C315.57,533 313.96,533 313.96,513.8 Z" fill="#d8d8d8" opacity="0.92"/>
<path d="M316.65,513.8 C316.65,533 318.24,533 318.24,552.2 L321.1,552.2 C321.1,533 318.19,533 318.19,513.8 Z" fill="#d8d8d8" opacity="0.92"/>
<path d="M332.95,513.8 C332.95,533 319.9,533 319.9,552.2 L323.63,552.2 C323.63,533 335.05,533 335.05,513.8 Z" fill="#d8d8d8" opacity="0.92"/>
<path d="M318.19,513.8 C318.19,533 322.29,533 322.29,552.2 L326.25,552.2 C326.25,533 320.45,533 320.45,513.8 Z" fill="#d8d8d8" opacity="0.92"/>
<path d="M357.4,513.8 C357.4,533 327.62,533 327.62,552.2 L325.06,552.2 C325.06,533 358.75,533 358.75,513.8 Z" fill="#d8d8d8" opacity="0.92"/>
<path d="M323.75,513.8 C323.75,533 334.46,533 334.46,552.2 L325.82,552.2 C325.82,533 329.02,533 329.02,513.8 Z" fill="#d8d8d8" opacity="0.92"/>
<path d="M329.02,513.8 C329.02,533 332.65,533 332.65,552.2 L335.33,552.2 C335.33,533 330.45,533 330.45,513.8 Z" fill="#d8d8d8" opacity="0.92"/>
<path d="M339.68,513.8 C339.68,533 334.1,533 334.1,552.2 L338.3,552.2 C338.3,533 342.1,533 342.1,513.8 Z" fill="#d8d8d8" opacity="0.92"/>
<path d="M335.75,513.8 C335.75,533 337.01,533 337.01,552.2 L340.11,552.2 C340.11,533 337.45,533 337.45,513.8 Z" fill="#d8d8d8" opacity="0.92"/>
<path d="M349.97,513.8 C349.97,533 338.27,533 338.27,552.2 L346.77,552.2 C346.77,533 355.15,533 355.15,513.8 Z" fill="#d8d8d8" opacity="0.92"/>
<path d="M360.58,513.8 C360.58,533 344.3,533 344.3,552.2 L352.17,552.2 C352.17,533 365.35,533 365.35,513.8 Z" fill="#d8d8d8" opacity="0.92"/>
<path d="M366.05,513.8 C366.05,533 350.48,533 350.48,552.2 L352.96,552.2 C352.96,533 367.35,533 367.35,513.8 Z" fill="#d8d8d8" opacity="0.92"/>
<path d="M338.15,513.8 C338.15,533 354.77,533 354.77,552.2 L351.93,552.2 C351.93,533 339.68,533 339.68,513.8 Z" fill="#d8d8d8" opacity="0.92"/>
<path d="M342.1,513.8 C342.1,533 360.88,533 360.88,552.2 L353.04,552.2 C353.04,533 346.85,533 346.85,513.8 Z" fill="#d8d8d8" opacity="0.92"/>
<path d="M355.85,513.8 C355.85,533 359.15,533 359.15,552.2 L362.03,552.2 C362.03,533 357.4,533 357.4,513.8 Z" fill="#d8d8d8" opacity="0.92"/>
<path d="M321.15,513.8 C321.15,533 360.87,533 360.87,552.2 L364.28,552.2 C364.28,533 323.05,533 323.05,513.8 Z" fill="#d8d8d8" opacity="0.92"/>
<path d="M359.45,513.8 C359.45,533 365.42,533 365.42,552.2 L363.2,552.2 C363.2,533 360.58,533 360.58,513.8 Z" fill="#d8d8d8" opacity="0.92"/>
<path d="M347.55,513.8 C347.55,533 364.47,533 364.47,552.2 L365.8,552.2 C365.8,533 349.97,533 349.97,513.8 Z" fill="#d8d8d8" opacity="0.92"/>
<path d="M379.15,513.8 C379.15,533 369.67,533 369.67,552.2 L372.77,552.2 C372.77,533 380.85,533 380.85,513.8 Z" fill="#d8d8d8" opacity="0.92"/>
<path d="M370.25,513.8 C370.25,533 370.62,533 370.62,552.2 L381.43,552.2 C381.43,533 376.92,533 376.92,513.8 Z" fill="#d8d8d8" opacity="0.92"/>
<path d="M376.92,513.8 C376.92,533 379.32,533 379.32,552.2 L382.16,552.2 C382.16,533 378.45,533 378.45,513.8 Z" fill="#d8d8d8" opacity="0.92"/>
<path d="M381.55,513.8 C381.55,533 380.4,533 380.4,552.2 L388.51,552.2 C388.51,533 386.48,533 386.48,513.8 Z" fill="#d8d8d8" opacity="0.92"/>
<path d="M368.05,513.8 C368.05,533 389.55,533 389.55,552.2 L386.75,552.2 C386.75,533 369.55,533 369.55,513.8 Z" fill="#d8d8d8" opacity="0.92"/>
<path d="M395.35,513.8 C395.35,533 388.46,533 388.46,552.2 L391.4,552.2 C391.4,533 396.95,533 396.95,513.8 Z" fill="#d8d8d8" opacity="0.92"/>
<path d="M386.48,513.8 C386.48,533 396.44,533 396.44,552.2 L389.82,552.2 C389.82,533 390.45,533 390.45,513.8 Z" fill="#d8d8d8" opacity="0.92"/>
<path d="M392.95,513.8 C392.95,533 394.84,533 394.84,552.2 L397.94,552.2 C397.94,533 394.65,533 394.65,513.8 Z" fill="#d8d8d8" opacity="0.92"/>
<path d="M391.15,513.8 C391.15,533 396.91,533 396.91,552.2 L399.08,552.2 C399.08,533 392.25,533 392.25,513.8 Z" fill="#d8d8d8" opacity="0.92"/>
<path d="M398.35,513.8 C398.35,533 402.1,533 402.1,552.2 L397.91,552.2 C397.91,533 400.75,533 400.75,513.8 Z" fill="#d8d8d8" opacity="0.92"/>
<path d="M405.37,513.8 C405.37,533 399.95,533 399.95,552.2 L409.7,552.2 C409.7,533 411.35,533 411.35,513.8 Z" fill="#d8d8d8" opacity="0.92"/>
<path d="M402.31,513.8 C402.31,533 412.62,533 412.62,552.2 L407.42,552.2 C407.42,533 405.37,533 405.37,513.8 Z" fill="#d8d8d8" opacity="0.92"/>
<path d="M418.93,513.8 C418.93,533 413.15,533 413.15,552.2 L411.37,552.2 C411.37,533 419.78,533 419.78,513.8 Z" fill="#d8d8d8" opacity="0.92"/>
<path d="M419.78,513.8 C419.78,533 411.43,533 411.43,552.2 L420.23,552.2 C420.23,533 425.15,533 425.15,513.8 Z" fill="#d8d8d8" opacity="0.92"/>
<path d="M400.75,513.8 C400.75,533 421.26,533 421.26,552.2 L418.38,552.2 C418.38,533 402.31,533 402.31,513.8 Z" fill="#d8d8d8" opacity="0.92"/>
<path d="M416.85,513.8 C416.85,533 420.06,533 420.06,552.2 L423.76,552.2 C423.76,533 418.93,533 418.93,513.8 Z" fill="#d8d8d8" opacity="0.92"/>
<path d="M412.05,513.8 C412.05,533 422.66,533 422.66,552.2 L424.83,552.2 C424.83,533 413.15,533 413.15,513.8 Z" fill="#d8d8d8" opacity="0.92"/>
<path d="M425.85,513.8 C425.85,533 423.98,533 423.98,552.2 L425.67,552.2 C425.67,533 426.64,533 426.64,513.8 Z" fill="#d8d8d8" opacity="0.92"/>
<path d="M413.85,513.8 C413.85,533 428.62,533 428.62,552.2 L424.59,552.2 C424.59,533 416.15,533 416.15,513.8 Z" fill="#d8d8d8" opacity="0.92"/>
<path d="M426.64,513.8 C426.64,533 427.17,533 427.17,552.2 L431.68,552.2 C431.68,533 429.25,533 429.25,513.8 Z" fill="#d8d8d8" opacity="0.92"/>
<path d="M437.54,513.8 C437.54,533 432.93,533 432.93,552.2 L430.43,552.2 C430.43,533 438.85,533 438.85,513.8 Z" fill="#d8d8d8" opacity="0.92"/>
<path d="M431.23,513.8 C431.23,533 431.75,533 431.75,552.2 L435.66,552.2 C435.66,533 433.45,533 433.45,513.8 Z" fill="#d8d8d8" opacity="0.92"/>
<path d="M434.15,513.8 C434.15,533 434.07,533 434.07,552.2 L439.7,552.2 C439.7,533 437.54,533 437.54,513.8 Z" fill="#d8d8d8" opacity="0.92"/>
<path d="M429.95,513.8 C429.95,533 439.7,533 439.7,552.2 L438.5,552.2 C438.5,533 431.23,533 431.23,513.8 Z" fill="#d8d8d8" opacity="0.92"/>
<path d="M441.02,513.8 C441.02,533 448.86,533 448.86,552.2 L442.8,552.2 C442.8,533 444.85,533 444.85,513.8 Z" fill="#d8d8d8" opacity="0.92"/>
<path d="M453.45,513.8 C453.45,533 447.08,533 447.08,552.2 L451.72,552.2 C451.72,533 456.14,533 456.14,513.8 Z" fill="#d8d8d8" opacity="0.92"/>
<path d="M445.55,513.8 C445.55,533 453.81,533 453.81,552.2 L450.32,552.2 C450.32,533 447.5,533 447.5,513.8 Z" fill="#d8d8d8" opacity="0.92"/>
<path d="M449.75,513.8 C449.75,533 452.51,533 452.51,552.2 L456.39,552.2 C456.39,533 451.95,533 451.95,513.8 Z" fill="#d8d8d8" opacity="0.92"/>
<path d="M447.5,513.8 C447.5,533 455.17,533 455.17,552.2 L458.04,552.2 C458.04,533 449.05,533 449.05,513.8 Z" fill="#d8d8d8" opacity="0.92"/>
<path d="M439.55,513.8 C439.55,533 456.97,533 456.97,552.2 L459.71,552.2 C459.71,533 441.02,533 441.02,513.8 Z" fill="#d8d8d8" opacity="0.92"/>
<path d="M465.35,513.8 C465.35,533 460.63,533 460.63,552.2 L458.76,552.2 C458.76,533 466.25,533 466.25,513.8 Z" fill="#d8d8d8" opacity="0.92"/>
<path d="M456.14,513.8 C456.14,533 459.62,533 459.62,552.2 L462.89,552.2 C462.89,533 457.95,533 457.95,513.8 Z" fill="#d8d8d8" opacity="0.92"/>
<path d="M458.65,513.8 C458.65,533 461.8,533 461.8,552.2 L464.3,552.2 C464.3,533 459.96,533 459.96,513.8 Z" fill="#d8d8d8" opacity="0.92"/>
<path d="M459.96,513.8 C459.96,533 463.19,533 463.19,552.2 L466.58,552.2 C466.58,533 461.85,533 461.85,513.8 Z" fill="#d8d8d8" opacity="0.92"/>
<path d="M462.55,513.8 C462.55,533 465.62,533 465.62,552.2 L467.02,552.2 C467.02,533 463.15,533 463.15,513.8 Z" fill="#d8d8d8" opacity="0.92"/>
<path d="M492.35,513.8 C492.35,533 470.83,533 470.83,552.2 L465.84,552.2 C465.84,533 495.27,533 495.27,513.8 Z" fill="#d8d8d8" opacity="0.92"/>
<path d="M463.85,513.8 C463.85,533 471.33,533 471.33,552.2 L469.62,552.2 C469.62,533 464.65,533 464.65,513.8 Z" fill="#d8d8d8" opacity="0.92"/>
<path d="M478.35,513.8 C478.35,533 470.11,533 470.11,552.2 L475.13,552.2 C475.13,533 481.28,533 481.28,513.8 Z" fill="#d8d8d8" opacity="0.92"/>
<path d="M472.65,513.8 C472.65,533 477.1,533 477.1,552.2 L473.69,552.2 C473.69,533 474.55,533 474.55,513.8 Z" fill="#d8d8d8" opacity="0.92"/>
<path d="M466.95,513.8 C466.95,533 475.81,533 475.81,552.2 L479.69,552.2 C479.69,533 469.15,533 469.15,513.8 Z" fill="#d8d8d8" opacity="0.92"/>
<path d="M475.25,513.8 C475.25,533 478.62,533 478.62,552.2 L480.33,552.2 C480.33,533 476.05,533 476.05,513.8 Z" fill="#d8d8d8" opacity="0.92"/>
<path d="M476.75,513.8 C476.75,533 479.52,533 479.52,552.2 L481.38,552.2 C481.38,533 477.65,533 477.65,513.8 Z" fill="#d8d8d8" opacity="0.92"/>
<path d="M488.42,513.8 C488.42,533 480.09,533 480.09,552.2 L485.57,552.2 C485.57,533 491.65,533 491.65,513.8 Z" fill="#d8d8d8" opacity="0.92"/>
<path d="M484.55,513.8 C484.55,533 483.67,533 483.67,552.2 L490.14,552.2 C490.14,533 488.42,533 488.42,513.8 Z" fill="#d8d8d8" opacity="0.92"/>
<path d="M469.85,513.8 C469.85,533 488.48,533 488.48,552.2 L492.2,552.2 C492.2,533 471.95,533 471.95,513.8 Z" fill="#d8d8d8" opacity="0.92"/>
<path d="M495.27,513.8 C495.27,533 490.89,533 490.89,552.2 L494.59,552.2 C494.59,533 497.35,533 497.35,513.8 Z" fill="#d8d8d8" opacity="0.92"/>
<path d="M500.09,513.8 C500.09,533 496.95,533 496.95,552.2 L493.29,552.2 C493.29,533 502.15,533 502.15,513.8 Z" fill="#d8d8d8" opacity="0.92"/>
<path d="M498.05,513.8 C498.05,533 495.66,533 495.66,552.2 L499.29,552.2 C499.29,533 500.09,533 500.09,513.8 Z" fill="#d8d8d8" opacity="0.92"/>
<path d="M481.28,513.8 C481.28,533 501.6,533 501.6,552.2 L497.9,552.2 C497.9,533 483.85,533 483.85,513.8 Z" fill="#d8d8d8" opacity="0.92"/>
</g>
<path d="M288.4,554.6 C288.4,573.9 288.4,573.9 288.4,593.2 L364.7,593.2 C364.7,573.9 365.5,573.9 365.5,554.6 Z" fill="#dbdbdb" opacity="1"/>
<path d="M368.6,554.6 C368.6,573.9 439.4,573.9 439.4,593.2 L368,593.2 C368,573.9 439.4,573.9 439.4,554.6 Z" fill="#dbdbdb" opacity="1"/>
<path d="M443.1,554.6 C443.1,573.9 443.1,573.9 443.1,593.2 L501.6,593.2 C501.6,573.9 501.6,573.9 501.6,554.6 Z" fill="#dbdbdb" opacity="1"/>
<line x1="314.5" y1="554.6" x2="314.5" y2="593.2" stroke="#fff" stroke-width="0.5" opacity="0.7"/>
<line x1="344.5" y1="554.6" x2="344.5" y2="593.2" stroke="#fff" stroke-width="0.5" opacity="0.7"/>
<line x1="484.5" y1="554.6" x2="484.5" y2="593.2" stroke="#fff" stroke-width="0.5" opacity="0.7"/>
<rect x="288.25" y="511.2" width="0.8" height="2.6" rx="0.5" fill="#f2855a" stroke="#4a3f3a" stroke-width="0.8"/>
<rect x="289.75" y="511.2" width="6.5" height="2.6" rx="0.5" fill="#f2855a" stroke="#4a3f3a" stroke-width="0.8"/>
<rect x="296.95" y="511.2" width="14.1" height="2.6" rx="0.5" fill="#f2855a" stroke="#4a3f3a" stroke-width="0.8"/>
<rect x="311.75" y="511.2" width="4.2" height="2.6" rx="0.5" fill="#f2855a" stroke="#4a3f3a" stroke-width="0.8"/>
<rect x="316.65" y="511.2" width="3.8" height="2.6" rx="0.5" fill="#f2855a" stroke="#4a3f3a" stroke-width="0.8"/>
<rect x="321.15" y="511.2" width="1.9" height="2.6" rx="0.5" fill="#f2855a" stroke="#4a3f3a" stroke-width="0.8"/>
<rect x="323.75" y="511.2" width="6.7" height="2.6" rx="0.5" fill="#f2855a" stroke="#4a3f3a" stroke-width="0.8"/>
<rect x="331.15" y="511.2" width="1.1" height="2.6" rx="0.5" fill="#f2855a" stroke="#4a3f3a" stroke-width="0.8"/>
<rect x="332.95" y="511.2" width="2.1" height="2.6" rx="0.5" fill="#f2855a" stroke="#4a3f3a" stroke-width="0.8"/>
<rect x="335.75" y="511.2" width="1.7" height="2.6" rx="0.5" fill="#f2855a" stroke="#4a3f3a" stroke-width="0.8"/>
<rect x="338.15" y="511.2" width="8.7" height="2.6" rx="0.5" fill="#f2855a" stroke="#4a3f3a" stroke-width="0.8"/>
<rect x="347.55" y="511.2" width="7.6" height="2.6" rx="0.5" fill="#f2855a" stroke="#4a3f3a" stroke-width="0.8"/>
<rect x="355.85" y="511.2" width="2.9" height="2.6" rx="0.5" fill="#f2855a" stroke="#4a3f3a" stroke-width="0.8"/>
<rect x="359.45" y="511.2" width="5.9" height="2.6" rx="0.5" fill="#f2855a" stroke="#4a3f3a" stroke-width="0.8"/>
<rect x="366.05" y="511.2" width="1.3" height="2.6" rx="0.5" fill="#f2855a" stroke="#4a3f3a" stroke-width="0.8"/>
<rect x="368.05" y="511.2" width="1.5" height="2.6" rx="0.5" fill="#f2855a" stroke="#4a3f3a" stroke-width="0.8"/>
<rect x="370.25" y="511.2" width="8.2" height="2.6" rx="0.5" fill="#f2855a" stroke="#4a3f3a" stroke-width="0.8"/>
<rect x="379.15" y="511.2" width="1.7" height="2.6" rx="0.5" fill="#f2855a" stroke="#4a3f3a" stroke-width="0.8"/>
<rect x="381.55" y="511.2" width="8.9" height="2.6" rx="0.5" fill="#f2855a" stroke="#4a3f3a" stroke-width="0.8"/>
<rect x="391.15" y="511.2" width="1.1" height="2.6" rx="0.5" fill="#f2855a" stroke="#4a3f3a" stroke-width="0.8"/>
<rect x="392.95" y="511.2" width="1.7" height="2.6" rx="0.5" fill="#f2855a" stroke="#4a3f3a" stroke-width="0.8"/>
<rect x="395.35" y="511.2" width="1.6" height="2.6" rx="0.5" fill="#f2855a" stroke="#4a3f3a" stroke-width="0.8"/>
<rect x="398.35" y="511.2" width="13" height="2.6" rx="0.5" fill="#f2855a" stroke="#4a3f3a" stroke-width="0.8"/>
<rect x="412.05" y="511.2" width="1.1" height="2.6" rx="0.5" fill="#f2855a" stroke="#4a3f3a" stroke-width="0.8"/>
<rect x="413.85" y="511.2" width="2.3" height="2.6" rx="0.5" fill="#f2855a" stroke="#4a3f3a" stroke-width="0.8"/>
<rect x="416.85" y="511.2" width="8.3" height="2.6" rx="0.5" fill="#f2855a" stroke="#4a3f3a" stroke-width="0.8"/>
<rect x="425.85" y="511.2" width="3.4" height="2.6" rx="0.5" fill="#f2855a" stroke="#4a3f3a" stroke-width="0.8"/>
<rect x="429.95" y="511.2" width="3.5" height="2.6" rx="0.5" fill="#f2855a" stroke="#4a3f3a" stroke-width="0.8"/>
<rect x="434.15" y="511.2" width="4.7" height="2.6" rx="0.5" fill="#f2855a" stroke="#4a3f3a" stroke-width="0.8"/>
<rect x="439.55" y="511.2" width="5.3" height="2.6" rx="0.5" fill="#f2855a" stroke="#4a3f3a" stroke-width="0.8"/>
<rect x="445.55" y="511.2" width="3.5" height="2.6" rx="0.5" fill="#f2855a" stroke="#4a3f3a" stroke-width="0.8"/>
<rect x="449.75" y="511.2" width="2.2" height="2.6" rx="0.5" fill="#f2855a" stroke="#4a3f3a" stroke-width="0.8"/>
<rect x="453.45" y="511.2" width="4.5" height="2.6" rx="0.5" fill="#f2855a" stroke="#4a3f3a" stroke-width="0.8"/>
<rect x="458.65" y="511.2" width="3.2" height="2.6" rx="0.5" fill="#f2855a" stroke="#4a3f3a" stroke-width="0.8"/>
<rect x="462.55" y="511.2" width="0.6" height="2.6" rx="0.5" fill="#f2855a" stroke="#4a3f3a" stroke-width="0.8"/>
<rect x="463.85" y="511.2" width="0.8" height="2.6" rx="0.5" fill="#f2855a" stroke="#4a3f3a" stroke-width="0.8"/>
<rect x="465.35" y="511.2" width="0.9" height="2.6" rx="0.5" fill="#f2855a" stroke="#4a3f3a" stroke-width="0.8"/>
<rect x="466.95" y="511.2" width="2.2" height="2.6" rx="0.5" fill="#f2855a" stroke="#4a3f3a" stroke-width="0.8"/>
<rect x="469.85" y="511.2" width="2.1" height="2.6" rx="0.5" fill="#f2855a" stroke="#4a3f3a" stroke-width="0.8"/>
<rect x="472.65" y="511.2" width="1.9" height="2.6" rx="0.5" fill="#f2855a" stroke="#4a3f3a" stroke-width="0.8"/>
<rect x="475.25" y="511.2" width="0.8" height="2.6" rx="0.5" fill="#f2855a" stroke="#4a3f3a" stroke-width="0.8"/>
<rect x="476.75" y="511.2" width="0.9" height="2.6" rx="0.5" fill="#f2855a" stroke="#4a3f3a" stroke-width="0.8"/>
<rect x="478.35" y="511.2" width="5.5" height="2.6" rx="0.5" fill="#f2855a" stroke="#4a3f3a" stroke-width="0.8"/>
<rect x="484.55" y="511.2" width="7.1" height="2.6" rx="0.5" fill="#f2855a" stroke="#4a3f3a" stroke-width="0.8"/>
<rect x="492.35" y="511.2" width="5" height="2.6" rx="0.5" fill="#f2855a" stroke="#4a3f3a" stroke-width="0.8"/>
<rect x="498.05" y="511.2" width="4.1" height="2.6" rx="0.5" fill="#f2855a" stroke="#4a3f3a" stroke-width="0.8"/>
<rect x="288.1" y="552.2" width="77.7" height="2.4" rx="1.2" fill="#8a9fd6" stroke="#4a4f60" stroke-width="0.7"/>
<rect x="368.3" y="552.2" width="71.4" height="2.4" rx="1.2" fill="#8a9fd6" stroke="#4a4f60" stroke-width="0.7"/>
<rect x="442.8" y="552.2" width="58.8" height="2.4" rx="1.2" fill="#8a9fd6" stroke="#4a4f60" stroke-width="0.7"/>
<rect x="288.1" y="593.2" width="76.9" height="2.6" rx="1.2" fill="#6cc39d" stroke="#4a5a52" stroke-width="0.7"/>
<rect x="367.7" y="593.2" width="72" height="2.6" rx="1.2" fill="#6cc39d" stroke="#4a5a52" stroke-width="0.7"/>
<rect x="442.8" y="593.2" width="58.8" height="2.6" rx="1.2" fill="#6cc39d" stroke="#4a5a52" stroke-width="0.7"/>
<text x="284.3" y="516.7" font-size="8.5" fill="#111" stroke="#111" stroke-width="0.15" text-anchor="end" textLength="27.1" lengthAdjust="spacingAndGlyphs">Sanger</text>
<text x="241.3" y="558.6" font-size="8.5" fill="#111" stroke="#111" stroke-width="0.15" textLength="43" lengthAdjust="spacingAndGlyphs">ONT + Hi-C</text>
<text x="240.5" y="590" font-size="8.5" fill="#111" stroke="#111" stroke-width="0.15" textLength="31.1" lengthAdjust="spacingAndGlyphs">Pseudo-</text>
<text x="228.5" y="598.8" font-size="8.5" fill="#111" stroke="#111" stroke-width="0.15" textLength="55.8" lengthAdjust="spacingAndGlyphs">chromosomes</text>
<text x="317" y="610.9" font-size="8.5" fill="#111" stroke="#111" stroke-width="0.15" textLength="21.8" lengthAdjust="spacingAndGlyphs">chr01</text>
<text x="393.3" y="610.9" font-size="8.5" fill="#111" stroke="#111" stroke-width="0.15" textLength="21.8" lengthAdjust="spacingAndGlyphs">chr02</text>
<text x="461.6" y="610.9" font-size="8.5" fill="#111" stroke="#111" stroke-width="0.15" textLength="21.8" lengthAdjust="spacingAndGlyphs">chr03</text>
<text x="247.2" y="637.5" font-size="8.5" fill="#111" stroke="#111" stroke-width="0.15" textLength="222.3" lengthAdjust="spacingAndGlyphs">New assembly, C:94.8%[S:90.8%,D:4.0%],F:0.5%,M:4.7%</text>
<text x="247.1" y="653.7" font-size="8.5" fill="#111" stroke="#111" stroke-width="0.15" textLength="249.9" lengthAdjust="spacingAndGlyphs">Pseudochromosomes, C:95.0%[S:90.8%,D:4.2%],F:0.3%,M:4.7%</text>
<text x="256.9" y="495.2" font-size="11.4" fill="#1a1a1a" style="font-family:'DejaVu Sans',sans-serif" textLength="11.3" lengthAdjust="spacingAndGlyphs">(f)</text>
</svg></body></html>
